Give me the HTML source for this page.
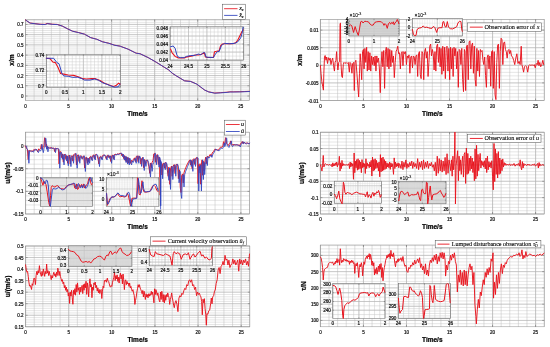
<!DOCTYPE html>
<html><head><meta charset="utf-8"><title>Observation results</title>
<style>html,body{margin:0;padding:0;background:#fff}svg{display:block;filter:blur(0.35px)}</style></head>
<body><svg width="550" height="347" viewBox="0 0 550 347">
<rect width="550" height="347" fill="#fff"/>
<rect x="25.50" y="19.60" width="223.90" height="80.80" fill="#fff"/>
<path d="M25.50 100.09H249.40M25.50 98.05H249.40M25.50 96.00H249.40M25.50 93.96H249.40M25.50 91.91H249.40M25.50 89.87H249.40M25.50 87.82H249.40M25.50 85.77H249.40M25.50 83.73H249.40M25.50 81.68H249.40M25.50 79.64H249.40M25.50 77.59H249.40M25.50 75.55H249.40M25.50 73.50H249.40M25.50 71.46H249.40M25.50 69.41H249.40M25.50 67.36H249.40M25.50 65.32H249.40M25.50 63.27H249.40M25.50 61.23H249.40M25.50 59.18H249.40M25.50 57.14H249.40M25.50 55.09H249.40M25.50 53.05H249.40M25.50 51.00H249.40M25.50 48.95H249.40M25.50 46.91H249.40M25.50 44.86H249.40M25.50 42.82H249.40M25.50 40.77H249.40M25.50 38.73H249.40M25.50 36.68H249.40M25.50 34.63H249.40M25.50 32.59H249.40M25.50 30.54H249.40M25.50 28.50H249.40M25.50 26.45H249.40M25.50 24.41H249.40M25.50 22.36H249.40M25.50 20.32H249.40" stroke="#cdcdcd" stroke-width="0.5" fill="none"/>
<path d="M25.50 19.60V100.40M34.11 19.60V100.40M42.72 19.60V100.40M51.33 19.60V100.40M59.95 19.60V100.40M68.56 19.60V100.40M77.17 19.60V100.40M85.78 19.60V100.40M94.39 19.60V100.40M103.00 19.60V100.40M111.62 19.60V100.40M120.23 19.60V100.40M128.84 19.60V100.40M137.45 19.60V100.40M146.06 19.60V100.40M154.67 19.60V100.40M163.28 19.60V100.40M171.90 19.60V100.40M180.51 19.60V100.40M189.12 19.60V100.40M197.73 19.60V100.40M206.34 19.60V100.40M214.95 19.60V100.40M223.57 19.60V100.40M232.18 19.60V100.40M240.79 19.60V100.40M249.40 19.60V100.40" stroke="#bcbcbc" stroke-width="0.5" fill="none"/>
<path d="M25.50 19.60V100.40M68.56 19.60V100.40M111.62 19.60V100.40M154.67 19.60V100.40M197.73 19.60V100.40M240.79 19.60V100.40M25.50 96.00H249.40M25.50 85.77H249.40M25.50 75.55H249.40M25.50 65.32H249.40M25.50 55.09H249.40M25.50 44.86H249.40M25.50 34.63H249.40M25.50 24.41H249.40" stroke="#b0b0b0" stroke-width="0.55" fill="none"/>
<rect x="25.50" y="19.60" width="223.90" height="80.80" fill="none" stroke="#8a8a8a" stroke-width="0.5"/>
<path d="M68.56 100.40v-2.0M68.56 19.60v2.0M111.62 100.40v-2.0M111.62 19.60v2.0M154.67 100.40v-2.0M154.67 19.60v2.0M197.73 100.40v-2.0M197.73 19.60v2.0M240.79 100.40v-2.0M240.79 19.60v2.0M25.50 96.00h2.0M249.40 96.00h-2.0M25.50 85.77h2.0M249.40 85.77h-2.0M25.50 75.55h2.0M249.40 75.55h-2.0M25.50 65.32h2.0M249.40 65.32h-2.0M25.50 55.09h2.0M249.40 55.09h-2.0M25.50 44.86h2.0M249.40 44.86h-2.0M25.50 34.63h2.0M249.40 34.63h-2.0M25.50 24.41h2.0M249.40 24.41h-2.0" stroke="#555" stroke-width="0.45" fill="none"/>
<text x="25.50" y="107.50" font-size="4.5" text-anchor="middle" font-family="Liberation Sans, sans-serif" fill="#111" stroke="#111" stroke-width="0.2">0</text>
<text x="68.56" y="107.50" font-size="4.5" text-anchor="middle" font-family="Liberation Sans, sans-serif" fill="#111" stroke="#111" stroke-width="0.2">5</text>
<text x="111.62" y="107.50" font-size="4.5" text-anchor="middle" font-family="Liberation Sans, sans-serif" fill="#111" stroke="#111" stroke-width="0.2">10</text>
<text x="154.67" y="107.50" font-size="4.5" text-anchor="middle" font-family="Liberation Sans, sans-serif" fill="#111" stroke="#111" stroke-width="0.2">15</text>
<text x="197.73" y="107.50" font-size="4.5" text-anchor="middle" font-family="Liberation Sans, sans-serif" fill="#111" stroke="#111" stroke-width="0.2">20</text>
<text x="240.79" y="107.50" font-size="4.5" text-anchor="middle" font-family="Liberation Sans, sans-serif" fill="#111" stroke="#111" stroke-width="0.2">25</text>
<text x="23.50" y="98.02" font-size="4.5" text-anchor="end" font-family="Liberation Sans, sans-serif" fill="#111" stroke="#111" stroke-width="0.2">0</text>
<text x="23.50" y="87.79" font-size="4.5" text-anchor="end" font-family="Liberation Sans, sans-serif" fill="#111" stroke="#111" stroke-width="0.2">0.1</text>
<text x="23.50" y="77.57" font-size="4.5" text-anchor="end" font-family="Liberation Sans, sans-serif" fill="#111" stroke="#111" stroke-width="0.2">0.2</text>
<text x="23.50" y="67.34" font-size="4.5" text-anchor="end" font-family="Liberation Sans, sans-serif" fill="#111" stroke="#111" stroke-width="0.2">0.3</text>
<text x="23.50" y="57.11" font-size="4.5" text-anchor="end" font-family="Liberation Sans, sans-serif" fill="#111" stroke="#111" stroke-width="0.2">0.4</text>
<text x="23.50" y="46.88" font-size="4.5" text-anchor="end" font-family="Liberation Sans, sans-serif" fill="#111" stroke="#111" stroke-width="0.2">0.5</text>
<text x="23.50" y="36.65" font-size="4.5" text-anchor="end" font-family="Liberation Sans, sans-serif" fill="#111" stroke="#111" stroke-width="0.2">0.6</text>
<text x="23.50" y="26.43" font-size="4.5" text-anchor="end" font-family="Liberation Sans, sans-serif" fill="#111" stroke="#111" stroke-width="0.2">0.7</text>
<polyline points="25.40,19.95 29.84,22.97 34.89,23.58 39.93,24.18 44.98,24.39 47.00,23.38 52.04,24.18 57.09,24.39 62.13,26.00 67.18,28.62 72.22,31.05 78.28,32.46 84.33,34.07 90.39,37.50 96.44,39.12 102.49,41.74 108.55,43.15 114.60,45.17 119.75,46.00 120.66,46.38 127.82,49.03 135.90,53.06 139.93,53.67 148.00,57.50 156.08,62.15 164.15,67.19 168.19,69.61 172.22,73.25 176.26,75.87 180.29,78.29 184.33,80.71 190.39,81.32 196.44,83.94 200.48,86.97 204.51,90.00 208.55,91.81 214.60,93.02 220.66,92.62 226.71,92.22 229.74,91.81 233.75,91.80 239.75,91.70 244.75,91.50 249.15,91.30" fill="none" stroke="#e8141e" stroke-width="0.9" stroke-linejoin="round" stroke-linecap="round"/>
<polyline points="25.80,20.15 30.24,23.17 35.29,23.78 40.33,24.38 45.38,24.59 47.40,23.58 52.44,24.38 57.49,24.59 62.53,26.20 67.58,28.82 72.62,31.25 78.68,32.66 84.73,34.27 90.79,37.70 96.84,39.32 102.89,41.94 108.95,43.35 115.00,45.37 120.15,46.20 121.06,46.58 128.22,49.23 136.30,53.26 140.33,53.87 148.40,57.70 156.48,62.35 164.55,67.39 168.59,69.81 172.62,73.45 176.66,76.07 180.69,78.49 184.73,80.91 190.79,81.52 196.84,84.14 200.88,87.17 204.91,90.20 208.95,92.01 215.00,93.22 221.06,92.82 227.11,92.42 230.14,92.01 234.15,92.00 240.15,91.90 245.15,91.70 249.55,91.50" fill="none" stroke="#2f43c0" stroke-width="0.9" stroke-linejoin="round" stroke-linecap="round"/>
<text x="137.45" y="115.60" font-size="6.5" font-weight="bold" text-anchor="middle" font-family="Liberation Sans, sans-serif" fill="#000" stroke="#000" stroke-width="0.2">Time/s</text>
<text transform="translate(14.20,60.00) rotate(-90)" font-size="6.6" font-weight="bold" text-anchor="middle" font-family="Liberation Sans, sans-serif" fill="#000" stroke="#000" stroke-width="0.2">x/m</text>
<rect x="222.30" y="4.20" width="23.20" height="15.10" fill="#fff" stroke="#4a4a4a" stroke-width="0.5"/>
<line x1="224.10" y1="8.70" x2="237.50" y2="8.70" stroke="#e8141e" stroke-width="1.0" stroke-opacity="0.85"/>
<text x="239.20" y="10.02" font-size="6.0" font-family="Liberation Serif, serif" fill="#000" stroke="#000" stroke-width="0.15"><tspan font-style="italic">x</tspan><tspan font-size="3.8" dy="1.0" font-style="italic">e</tspan></text>
<line x1="224.10" y1="15.40" x2="237.50" y2="15.40" stroke="#2f43c0" stroke-width="1.0" stroke-opacity="0.85"/>
<text x="239.20" y="16.72" font-size="6.0" font-family="Liberation Serif, serif" fill="#000" stroke="#000" stroke-width="0.15"><tspan font-style="italic">x̂</tspan><tspan font-size="3.8" dy="1.0" font-style="italic">e</tspan></text>
<rect x="46.40" y="54.60" width="74.00" height="33.10" fill="#fff"/>
<path d="M46.40 86.76H120.40M46.40 83.64H120.40M46.40 80.52H120.40M46.40 77.40H120.40M46.40 74.27H120.40M46.40 71.15H120.40M46.40 68.03H120.40M46.40 64.90H120.40M46.40 61.78H120.40M46.40 58.66H120.40M46.40 55.54H120.40" stroke="#cfcfcf" stroke-width="0.5" fill="none"/>
<path d="M46.40 54.60V87.70M50.10 54.60V87.70M53.80 54.60V87.70M57.50 54.60V87.70M61.20 54.60V87.70M64.90 54.60V87.70M68.60 54.60V87.70M72.30 54.60V87.70M76.00 54.60V87.70M79.70 54.60V87.70M83.40 54.60V87.70M87.10 54.60V87.70M90.80 54.60V87.70M94.50 54.60V87.70M98.20 54.60V87.70M101.90 54.60V87.70M105.60 54.60V87.70M109.30 54.60V87.70M113.00 54.60V87.70M116.70 54.60V87.70M120.40 54.60V87.70" stroke="#cfcfcf" stroke-width="0.5" fill="none"/>
<path d="M46.40 54.60V87.70M64.90 54.60V87.70M83.40 54.60V87.70M101.90 54.60V87.70M120.40 54.60V87.70M46.40 86.76H120.40M46.40 71.15H120.40M46.40 55.54H120.40" stroke="#b4b4b4" stroke-width="0.55" fill="none"/>
<rect x="46.40" y="54.60" width="74.00" height="33.10" fill="none" stroke="#666" stroke-width="0.5"/>
<path d="M64.90 87.70v-1.2M64.90 54.60v1.2M83.40 87.70v-1.2M83.40 54.60v1.2M101.90 87.70v-1.2M101.90 54.60v1.2M46.40 86.76h1.2M120.40 86.76h-1.2M46.40 71.15h1.2M120.40 71.15h-1.2M46.40 55.54h1.2M120.40 55.54h-1.2" stroke="#555" stroke-width="0.45" fill="none"/>
<text x="46.40" y="93.66" font-size="4.6" text-anchor="middle" font-family="Liberation Sans, sans-serif" fill="#111" stroke="#111" stroke-width="0.2">0</text>
<text x="64.90" y="93.66" font-size="4.6" text-anchor="middle" font-family="Liberation Sans, sans-serif" fill="#111" stroke="#111" stroke-width="0.2">0.5</text>
<text x="83.40" y="93.66" font-size="4.6" text-anchor="middle" font-family="Liberation Sans, sans-serif" fill="#111" stroke="#111" stroke-width="0.2">1</text>
<text x="101.90" y="93.66" font-size="4.6" text-anchor="middle" font-family="Liberation Sans, sans-serif" fill="#111" stroke="#111" stroke-width="0.2">1.5</text>
<text x="120.40" y="93.66" font-size="4.6" text-anchor="middle" font-family="Liberation Sans, sans-serif" fill="#111" stroke="#111" stroke-width="0.2">2</text>
<text x="44.40" y="88.02" font-size="4.6" text-anchor="end" font-family="Liberation Sans, sans-serif" fill="#111" stroke="#111" stroke-width="0.2">0.7</text>
<text x="44.40" y="72.41" font-size="4.6" text-anchor="end" font-family="Liberation Sans, sans-serif" fill="#111" stroke="#111" stroke-width="0.2">0.72</text>
<text x="44.40" y="56.79" font-size="4.6" text-anchor="end" font-family="Liberation Sans, sans-serif" fill="#111" stroke="#111" stroke-width="0.2">0.74</text>
<polyline points="46.36,58.27 50.00,58.64 52.73,61.91 55.45,62.64 58.18,67.73 60.55,73.55 63.64,74.09 68.18,75.00 73.64,75.36 78.18,76.82 82.73,78.64 86.36,79.00 91.82,78.64 95.45,78.64 100.00,80.45 104.55,83.18 109.09,85.00 113.64,86.45 116.36,85.36 118.55,83.18 120.00,84.09" fill="none" stroke="#e8141e" stroke-width="1.1" stroke-linejoin="round" stroke-linecap="round"/>
<polyline points="46.36,58.27 53.64,58.27 56.91,62.64 59.09,63.73 61.82,73.18 63.64,75.91 68.18,76.27 72.73,77.36 77.27,77.18 81.82,78.64 84.55,80.09 90.00,80.09 94.55,79.00 98.18,80.09 102.73,82.82 106.36,84.09 110.91,85.91 114.55,87.18 118.18,86.82 120.00,84.09" fill="none" stroke="#2f43c0" stroke-width="1.0" stroke-linejoin="round" stroke-linecap="round"/>
<rect x="170.10" y="26.80" width="73.60" height="33.30" fill="#fff"/>
<path d="M170.10 60.10H243.70M170.10 56.09H243.70M170.10 52.08H243.70M170.10 48.06H243.70M170.10 44.05H243.70M170.10 40.04H243.70M170.10 36.03H243.70M170.10 32.02H243.70M170.10 28.00H243.70" stroke="#cfcfcf" stroke-width="0.5" fill="none"/>
<path d="M170.10 26.80V60.10M173.78 26.80V60.10M177.46 26.80V60.10M181.14 26.80V60.10M184.82 26.80V60.10M188.50 26.80V60.10M192.18 26.80V60.10M195.86 26.80V60.10M199.54 26.80V60.10M203.22 26.80V60.10M206.90 26.80V60.10M210.58 26.80V60.10M214.26 26.80V60.10M217.94 26.80V60.10M221.62 26.80V60.10M225.30 26.80V60.10M228.98 26.80V60.10M232.66 26.80V60.10M236.34 26.80V60.10M240.02 26.80V60.10M243.70 26.80V60.10" stroke="#cfcfcf" stroke-width="0.5" fill="none"/>
<path d="M170.10 26.80V60.10M188.50 26.80V60.10M206.90 26.80V60.10M225.30 26.80V60.10M243.70 26.80V60.10M170.10 60.10H243.70M170.10 52.08H243.70M170.10 44.05H243.70M170.10 36.03H243.70M170.10 28.00H243.70" stroke="#b4b4b4" stroke-width="0.55" fill="none"/>
<rect x="170.10" y="26.80" width="73.60" height="33.30" fill="none" stroke="#666" stroke-width="0.5"/>
<path d="M188.50 60.10v-1.2M188.50 26.80v1.2M206.90 60.10v-1.2M206.90 26.80v1.2M225.30 60.10v-1.2M225.30 26.80v1.2M170.10 52.08h1.2M243.70 52.08h-1.2M170.10 44.05h1.2M243.70 44.05h-1.2M170.10 36.03h1.2M243.70 36.03h-1.2M170.10 28.00h1.2M243.70 28.00h-1.2" stroke="#555" stroke-width="0.45" fill="none"/>
<text x="170.10" y="67.56" font-size="4.6" text-anchor="middle" font-family="Liberation Sans, sans-serif" fill="#111" stroke="#111" stroke-width="0.2">24</text>
<text x="188.50" y="67.56" font-size="4.6" text-anchor="middle" font-family="Liberation Sans, sans-serif" fill="#111" stroke="#111" stroke-width="0.2">24.5</text>
<text x="206.90" y="67.56" font-size="4.6" text-anchor="middle" font-family="Liberation Sans, sans-serif" fill="#111" stroke="#111" stroke-width="0.2">25</text>
<text x="225.30" y="67.56" font-size="4.6" text-anchor="middle" font-family="Liberation Sans, sans-serif" fill="#111" stroke="#111" stroke-width="0.2">25.5</text>
<text x="243.70" y="67.56" font-size="4.6" text-anchor="middle" font-family="Liberation Sans, sans-serif" fill="#111" stroke="#111" stroke-width="0.2">26</text>
<text x="168.10" y="62.46" font-size="4.6" text-anchor="end" font-family="Liberation Sans, sans-serif" fill="#111" stroke="#111" stroke-width="0.2">0.04</text>
<text x="168.10" y="54.43" font-size="4.6" text-anchor="end" font-family="Liberation Sans, sans-serif" fill="#111" stroke="#111" stroke-width="0.2">0.042</text>
<text x="168.10" y="46.41" font-size="4.6" text-anchor="end" font-family="Liberation Sans, sans-serif" fill="#111" stroke="#111" stroke-width="0.2">0.044</text>
<text x="168.10" y="38.38" font-size="4.6" text-anchor="end" font-family="Liberation Sans, sans-serif" fill="#111" stroke="#111" stroke-width="0.2">0.046</text>
<text x="168.10" y="30.36" font-size="4.6" text-anchor="end" font-family="Liberation Sans, sans-serif" fill="#111" stroke="#111" stroke-width="0.2">0.048</text>
<polyline points="170.52,48.99 172.14,52.82 175.16,56.45 178.19,57.86 184.23,58.06 187.26,56.85 192.30,55.85 195.32,55.04 198.35,54.84 200.97,54.44 204.40,52.82 205.40,57.06 207.82,57.46 213.47,57.46 214.48,51.81 219.11,50.81 220.52,45.97 222.54,43.95 226.57,43.55 232.62,43.75 235.65,42.74 237.66,40.32 239.68,36.29 242.10,31.25 243.31,29.84" fill="none" stroke="#e8141e" stroke-width="1.1" stroke-linejoin="round" stroke-linecap="round"/>
<polyline points="170.52,46.77 173.15,45.97 175.16,48.39 176.77,54.84 178.19,57.06 180.20,57.66 184.23,57.66 186.25,56.45 190.28,55.65 195.32,55.24 198.35,54.03 200.97,54.84 203.39,52.42 204.80,52.82 206.01,57.06 207.82,57.26 213.47,57.46 215.48,54.03 217.50,51.41 219.11,51.61 221.53,45.36 224.56,43.35 229.60,43.75 234.64,43.35 237.66,41.94 240.69,37.90 242.10,33.27 243.10,27.22" fill="none" stroke="#2f43c0" stroke-width="1.0" stroke-linejoin="round" stroke-linecap="round"/>
<rect x="320.40" y="19.40" width="223.80" height="81.10" fill="#fff"/>
<path d="M320.40 100.50H544.20M320.40 96.98H544.20M320.40 93.46H544.20M320.40 89.94H544.20M320.40 86.42H544.20M320.40 82.90H544.20M320.40 79.38H544.20M320.40 75.86H544.20M320.40 72.34H544.20M320.40 68.82H544.20M320.40 65.30H544.20M320.40 61.78H544.20M320.40 58.26H544.20M320.40 54.74H544.20M320.40 51.22H544.20M320.40 47.70H544.20M320.40 44.18H544.20M320.40 40.66H544.20M320.40 37.14H544.20M320.40 33.62H544.20M320.40 30.10H544.20M320.40 26.58H544.20M320.40 23.06H544.20M320.40 19.54H544.20" stroke="#cdcdcd" stroke-width="0.5" fill="none"/>
<path d="M320.40 19.40V100.50M329.01 19.40V100.50M337.62 19.40V100.50M346.22 19.40V100.50M354.83 19.40V100.50M363.44 19.40V100.50M372.05 19.40V100.50M380.65 19.40V100.50M389.26 19.40V100.50M397.87 19.40V100.50M406.48 19.40V100.50M415.08 19.40V100.50M423.69 19.40V100.50M432.30 19.40V100.50M440.91 19.40V100.50M449.52 19.40V100.50M458.12 19.40V100.50M466.73 19.40V100.50M475.34 19.40V100.50M483.95 19.40V100.50M492.55 19.40V100.50M501.16 19.40V100.50M509.77 19.40V100.50M518.38 19.40V100.50M526.98 19.40V100.50M535.59 19.40V100.50M544.20 19.40V100.50" stroke="#bcbcbc" stroke-width="0.5" fill="none"/>
<path d="M320.40 19.40V100.50M363.44 19.40V100.50M406.48 19.40V100.50M449.52 19.40V100.50M492.55 19.40V100.50M535.59 19.40V100.50M320.40 100.50H544.20M320.40 82.90H544.20M320.40 65.30H544.20M320.40 47.70H544.20M320.40 30.10H544.20" stroke="#b0b0b0" stroke-width="0.55" fill="none"/>
<rect x="320.40" y="19.40" width="223.80" height="81.10" fill="none" stroke="#8a8a8a" stroke-width="0.5"/>
<path d="M363.44 100.50v-2.0M363.44 19.40v2.0M406.48 100.50v-2.0M406.48 19.40v2.0M449.52 100.50v-2.0M449.52 19.40v2.0M492.55 100.50v-2.0M492.55 19.40v2.0M535.59 100.50v-2.0M535.59 19.40v2.0M320.40 82.90h2.0M544.20 82.90h-2.0M320.40 65.30h2.0M544.20 65.30h-2.0M320.40 47.70h2.0M544.20 47.70h-2.0M320.40 30.10h2.0M544.20 30.10h-2.0" stroke="#555" stroke-width="0.45" fill="none"/>
<text x="320.40" y="107.60" font-size="4.5" text-anchor="middle" font-family="Liberation Sans, sans-serif" fill="#111" stroke="#111" stroke-width="0.2">0</text>
<text x="363.44" y="107.60" font-size="4.5" text-anchor="middle" font-family="Liberation Sans, sans-serif" fill="#111" stroke="#111" stroke-width="0.2">5</text>
<text x="406.48" y="107.60" font-size="4.5" text-anchor="middle" font-family="Liberation Sans, sans-serif" fill="#111" stroke="#111" stroke-width="0.2">10</text>
<text x="449.52" y="107.60" font-size="4.5" text-anchor="middle" font-family="Liberation Sans, sans-serif" fill="#111" stroke="#111" stroke-width="0.2">15</text>
<text x="492.55" y="107.60" font-size="4.5" text-anchor="middle" font-family="Liberation Sans, sans-serif" fill="#111" stroke="#111" stroke-width="0.2">20</text>
<text x="535.59" y="107.60" font-size="4.5" text-anchor="middle" font-family="Liberation Sans, sans-serif" fill="#111" stroke="#111" stroke-width="0.2">25</text>
<text x="318.40" y="102.52" font-size="4.5" text-anchor="end" font-family="Liberation Sans, sans-serif" fill="#111" stroke="#111" stroke-width="0.2">-0.01</text>
<text x="318.40" y="84.92" font-size="4.5" text-anchor="end" font-family="Liberation Sans, sans-serif" fill="#111" stroke="#111" stroke-width="0.2">-0.005</text>
<text x="318.40" y="67.32" font-size="4.5" text-anchor="end" font-family="Liberation Sans, sans-serif" fill="#111" stroke="#111" stroke-width="0.2">0</text>
<text x="318.40" y="49.72" font-size="4.5" text-anchor="end" font-family="Liberation Sans, sans-serif" fill="#111" stroke="#111" stroke-width="0.2">0.005</text>
<text x="318.40" y="32.12" font-size="4.5" text-anchor="end" font-family="Liberation Sans, sans-serif" fill="#111" stroke="#111" stroke-width="0.2">0.01</text>
<polyline points="320.38,65.46 321.03,73.24 321.89,81.89 322.76,86.65 323.41,90.11 323.84,73.24 324.49,57.03 325.14,55.51 326.00,60.27 326.65,57.03 327.51,63.51 328.38,57.68 329.24,60.27 330.11,58.11 330.97,64.59 331.84,60.27 332.70,58.11 333.57,65.68 334.43,71.08 335.08,62.43 335.95,60.27 336.59,51.62 337.24,62.43 337.89,70.00 338.76,62.43 339.62,61.35 340.05,23.51 340.49,23.08 340.92,62.43 341.78,76.49 342.43,77.57 343.30,64.59 343.95,62.43 345.03,63.51 346.11,62.43 347.19,63.51 348.27,62.43 349.35,72.16 350.00,62.43 350.86,63.51 351.95,73.24 352.59,63.51 353.68,62.43 354.32,90.54 354.97,62.43 355.84,60.27 356.92,73.24 357.78,85.14 358.65,97.03 359.51,73.24 360.16,53.78 360.81,62.43 361.68,79.73 362.54,51.62 363.41,49.46 364.05,68.92 364.92,48.38 365.78,62.43 366.65,47.30 367.30,71.08 368.16,51.62 369.03,70.00 369.89,52.70 370.76,71.08 371.62,55.95 372.49,64.59 373.35,57.03 374.22,65.68 375.08,55.95 375.95,71.08 376.81,55.95 377.68,62.43 378.54,58.11 379.41,68.92 380.27,92.70 381.14,64.59 382.00,51.62 382.86,66.76 383.73,50.54 384.59,88.38 385.46,51.62 386.32,47.30 387.19,66.76 388.05,48.38 388.92,68.92 389.78,49.46 390.00,51.62 390.86,66.76 391.73,50.54 392.59,62.43 393.46,55.95 394.32,77.57 395.19,62.43 396.05,51.62 396.92,49.46 397.78,46.22 398.65,53.78 399.51,52.70 400.38,68.92 401.24,53.78 402.11,51.62 402.97,65.68 403.84,51.62 404.70,53.78 405.57,51.62 406.43,64.59 407.30,55.95 408.16,58.11 409.03,54.86 409.89,73.24 410.76,57.03 411.62,55.95 412.49,67.84 413.35,55.95 414.22,57.03 415.08,64.59 415.95,55.95 416.81,54.86 417.68,76.49 418.54,53.78 419.41,51.62 420.27,74.32 421.14,78.65 422.00,51.62 422.86,53.78 423.73,79.73 424.59,51.62 425.46,48.38 426.32,58.11 427.19,51.62 428.05,76.49 428.92,62.43 429.78,46.22 430.65,44.05 431.51,55.95 432.38,49.46 433.24,53.78 434.11,70.00 434.97,51.62 435.84,71.08 436.70,46.22 437.57,44.05 438.43,62.43 439.30,47.30 440.16,66.76 441.03,48.38 441.89,74.32 442.76,46.22 443.62,71.08 444.49,47.30 445.35,78.65 446.22,47.30 447.08,46.22 447.95,71.08 448.81,48.38 449.68,79.73 450.54,47.30 451.41,68.92 452.27,48.38 453.14,76.49 454.00,47.30 454.86,55.95 455.73,48.38 456.59,68.92 457.46,51.62 458.32,87.30 459.19,49.46 460.05,50.54 460.92,64.59 461.78,48.38 462.65,79.73 463.51,91.62 464.38,49.46 465.00,51.62 465.65,90.54 466.51,46.22 467.38,45.14 468.24,79.73 469.11,41.89 469.97,40.81 470.84,68.92 471.70,45.14 472.57,42.97 473.43,73.24 474.30,46.22 475.16,79.73 476.03,86.22 476.89,48.38 477.76,71.08 478.62,50.54 479.49,76.49 480.35,49.46 481.22,51.62 482.08,50.54 482.95,60.27 483.81,64.59 484.68,57.03 485.54,75.41 486.41,87.30 487.27,57.03 488.14,54.86 489.00,68.92 489.86,55.95 490.73,86.22 491.59,51.62 492.46,50.54 493.32,88.38 494.19,51.62 495.05,94.86 495.92,99.62 496.78,62.43 497.65,45.14 498.51,44.05 499.38,88.38 500.24,51.62 501.11,38.22 501.97,39.73 502.84,64.59 503.70,42.97 504.57,41.89 505.43,49.46 506.30,51.62 507.16,58.11 508.03,50.54 508.89,49.46 509.76,53.78 510.62,50.54 511.49,55.95 512.57,57.03 513.65,60.27 514.73,64.59 515.81,58.11 516.89,53.78 517.97,63.51 519.05,61.35 520.14,64.59 521.22,46.22 521.86,64.59 522.73,67.84 523.59,72.16 524.46,66.76 525.54,65.68 526.62,66.76 527.70,72.16 528.78,65.68 529.86,64.59 530.95,65.68 532.03,64.59 533.11,65.68 534.19,64.59 535.27,67.84 536.35,63.51 537.43,64.59 538.08,60.27 538.95,65.68 539.81,62.43 540.68,66.76 541.76,64.59 542.84,60.27 543.70,64.59" fill="none" stroke="#e8141e" stroke-width="0.95" stroke-linejoin="round" stroke-linecap="round"/>
<text x="432.30" y="115.70" font-size="6.5" font-weight="bold" text-anchor="middle" font-family="Liberation Sans, sans-serif" fill="#000" stroke="#000" stroke-width="0.2">Time/s</text>
<text transform="translate(302.30,59.95) rotate(-90)" font-size="6.6" font-weight="bold" text-anchor="middle" font-family="Liberation Sans, sans-serif" fill="#000" stroke="#000" stroke-width="0.2">x/m</text>
<rect x="348.90" y="18.90" width="50.20" height="17.10" fill="#dcdcdc"/>
<path d="M348.90 36.00H399.10M348.90 34.78H399.10M348.90 33.56H399.10M348.90 32.34H399.10M348.90 31.11H399.10M348.90 29.89H399.10M348.90 28.67H399.10M348.90 27.45H399.10M348.90 26.23H399.10M348.90 25.01H399.10M348.90 23.79H399.10M348.90 22.56H399.10M348.90 21.34H399.10M348.90 20.12H399.10M348.90 18.90H399.10" stroke="#cacaca" stroke-width="0.35" fill="none"/>
<path d="M348.90 18.90V36.00M349.90 18.90V36.00M350.91 18.90V36.00M351.91 18.90V36.00M352.92 18.90V36.00M353.92 18.90V36.00M354.92 18.90V36.00M355.93 18.90V36.00M356.93 18.90V36.00M357.94 18.90V36.00M358.94 18.90V36.00M359.94 18.90V36.00M360.95 18.90V36.00M361.95 18.90V36.00M362.96 18.90V36.00M363.96 18.90V36.00M364.96 18.90V36.00M365.97 18.90V36.00M366.97 18.90V36.00M367.98 18.90V36.00M368.98 18.90V36.00M369.98 18.90V36.00M370.99 18.90V36.00M371.99 18.90V36.00M373.00 18.90V36.00M374.00 18.90V36.00M375.00 18.90V36.00M376.01 18.90V36.00M377.01 18.90V36.00M378.02 18.90V36.00M379.02 18.90V36.00M380.02 18.90V36.00M381.03 18.90V36.00M382.03 18.90V36.00M383.04 18.90V36.00M384.04 18.90V36.00M385.04 18.90V36.00M386.05 18.90V36.00M387.05 18.90V36.00M388.06 18.90V36.00M389.06 18.90V36.00M390.06 18.90V36.00M391.07 18.90V36.00M392.07 18.90V36.00M393.08 18.90V36.00M394.08 18.90V36.00M395.08 18.90V36.00M396.09 18.90V36.00M397.09 18.90V36.00M398.10 18.90V36.00M399.10 18.90V36.00" stroke="#cacaca" stroke-width="0.35" fill="none"/>
<path d="M348.90 18.90V36.00M374.00 18.90V36.00M399.10 18.90V36.00M348.90 18.90H399.10M348.90 21.34H399.10M348.90 23.79H399.10M348.90 26.23H399.10M348.90 28.67H399.10M348.90 31.11H399.10M348.90 33.56H399.10" stroke="#c8c8c8" stroke-width="0.55" fill="none"/>
<rect x="348.90" y="18.90" width="50.20" height="17.10" fill="none" stroke="#666" stroke-width="0.5"/>
<path d="M374.00 36.00v-1.2M374.00 18.90v1.2M348.90 21.34h1.2M399.10 21.34h-1.2M348.90 23.79h1.2M399.10 23.79h-1.2M348.90 26.23h1.2M399.10 26.23h-1.2M348.90 28.67h1.2M399.10 28.67h-1.2M348.90 31.11h1.2M399.10 31.11h-1.2M348.90 33.56h1.2M399.10 33.56h-1.2" stroke="#555" stroke-width="0.45" fill="none"/>
<text x="348.90" y="42.66" font-size="4.6" text-anchor="middle" font-family="Liberation Sans, sans-serif" fill="#111" stroke="#111" stroke-width="0.2">0</text>
<text x="374.00" y="42.66" font-size="4.6" text-anchor="middle" font-family="Liberation Sans, sans-serif" fill="#111" stroke="#111" stroke-width="0.2">1</text>
<text x="399.10" y="42.66" font-size="4.6" text-anchor="middle" font-family="Liberation Sans, sans-serif" fill="#111" stroke="#111" stroke-width="0.2">2</text>
<text x="348.30" y="20.56" font-size="4.6" text-anchor="end" font-family="Liberation Sans, sans-serif" fill="#111" stroke="#111" stroke-width="0.2">4</text>
<text x="348.30" y="23.00" font-size="4.6" text-anchor="end" font-family="Liberation Sans, sans-serif" fill="#111" stroke="#111" stroke-width="0.2">2</text>
<text x="348.30" y="25.44" font-size="4.6" text-anchor="end" font-family="Liberation Sans, sans-serif" fill="#111" stroke="#111" stroke-width="0.2">0</text>
<text x="348.30" y="27.88" font-size="4.6" text-anchor="end" font-family="Liberation Sans, sans-serif" fill="#111" stroke="#111" stroke-width="0.2">-2</text>
<text x="348.30" y="30.33" font-size="4.6" text-anchor="end" font-family="Liberation Sans, sans-serif" fill="#111" stroke="#111" stroke-width="0.2">-4</text>
<text x="348.30" y="32.77" font-size="4.6" text-anchor="end" font-family="Liberation Sans, sans-serif" fill="#111" stroke="#111" stroke-width="0.2">-6</text>
<text x="348.30" y="35.21" font-size="4.6" text-anchor="end" font-family="Liberation Sans, sans-serif" fill="#111" stroke="#111" stroke-width="0.2">-8</text>
<text x="349.5" y="17.3" font-size="5.0" font-family="Liberation Sans, sans-serif" fill="#111" stroke="#111" stroke-width="0.1">×10<tspan font-size="3.6" dy="-1.8">-3</tspan></text>
<polyline points="349.22,25.96 350.64,24.78 351.82,25.96 353.59,32.46 355.13,26.55 356.55,31.28 358.32,35.41 359.50,28.91 360.69,21.82 361.87,21.23 363.05,23.00 364.82,21.23 366.60,21.58 368.37,21.82 370.14,24.18 371.32,25.13 373.10,25.13 374.87,22.41 376.64,21.82 379.01,21.58 381.37,21.82 383.14,23.59 383.97,25.37 384.92,23.59 386.10,24.78 387.28,28.32 388.46,23.59 389.65,22.41 390.59,24.18 391.77,22.41 392.60,23.59 393.43,21.82 394.14,24.78 394.96,23.00 396.15,21.82 397.33,19.46 398.16,21.82 398.87,23.59" fill="none" stroke="#e8141e" stroke-width="1.0" stroke-linejoin="round" stroke-linecap="round"/>
<rect x="412.30" y="18.70" width="50.00" height="17.30" fill="#fff"/>
<path d="M412.30 36.00H462.30M412.30 31.73H462.30M412.30 27.46H462.30M412.30 23.19H462.30M412.30 18.91H462.30" stroke="#dddddd" stroke-width="0.5" fill="none"/>
<path d="M412.30 18.70V36.00M414.80 18.70V36.00M417.30 18.70V36.00M419.80 18.70V36.00M422.30 18.70V36.00M424.80 18.70V36.00M427.30 18.70V36.00M429.80 18.70V36.00M432.30 18.70V36.00M434.80 18.70V36.00M437.30 18.70V36.00M439.80 18.70V36.00M442.30 18.70V36.00M444.80 18.70V36.00M447.30 18.70V36.00M449.80 18.70V36.00M452.30 18.70V36.00M454.80 18.70V36.00M457.30 18.70V36.00M459.80 18.70V36.00M462.30 18.70V36.00" stroke="#dddddd" stroke-width="0.5" fill="none"/>
<path d="M412.30 18.70V36.00M437.30 18.70V36.00M462.30 18.70V36.00M412.30 36.00H462.30M412.30 27.46H462.30M412.30 18.91H462.30" stroke="#b0b0b0" stroke-width="0.55" fill="none"/>
<rect x="412.30" y="18.70" width="50.00" height="17.30" fill="none" stroke="#666" stroke-width="0.5"/>
<path d="M437.30 36.00v-1.2M437.30 18.70v1.2M412.30 27.46h1.2M462.30 27.46h-1.2" stroke="#555" stroke-width="0.45" fill="none"/>
<text x="412.30" y="42.66" font-size="4.6" text-anchor="middle" font-family="Liberation Sans, sans-serif" fill="#111" stroke="#111" stroke-width="0.2">24</text>
<text x="437.30" y="42.66" font-size="4.6" text-anchor="middle" font-family="Liberation Sans, sans-serif" fill="#111" stroke="#111" stroke-width="0.2">25</text>
<text x="462.30" y="42.66" font-size="4.6" text-anchor="middle" font-family="Liberation Sans, sans-serif" fill="#111" stroke="#111" stroke-width="0.2">26</text>
<text x="410.30" y="37.66" font-size="4.6" text-anchor="end" font-family="Liberation Sans, sans-serif" fill="#111" stroke="#111" stroke-width="0.2">-2</text>
<text x="410.30" y="29.11" font-size="4.6" text-anchor="end" font-family="Liberation Sans, sans-serif" fill="#111" stroke="#111" stroke-width="0.2">0</text>
<text x="410.30" y="20.57" font-size="4.6" text-anchor="end" font-family="Liberation Sans, sans-serif" fill="#111" stroke="#111" stroke-width="0.2">2</text>
<text x="414.5" y="17.3" font-size="5.0" font-family="Liberation Sans, sans-serif" fill="#111" stroke="#111" stroke-width="0.1">×10<tspan font-size="3.6" dy="-1.8">-3</tspan></text>
<polyline points="412.46,29.50 413.40,34.23 414.23,35.41 416.00,35.41 416.95,30.09 417.78,28.68 419.55,27.97 421.32,27.73 423.09,25.96 424.87,27.49 426.64,27.14 428.41,27.73 430.19,28.32 431.96,28.32 433.50,26.31 434.91,27.73 436.69,32.46 437.87,28.32 439.64,27.73 442.01,27.73 442.95,21.82 443.78,21.58 444.96,26.55 446.14,27.14 447.33,21.58 448.51,27.14 450.28,28.68 452.65,28.91 455.01,27.73 456.78,26.55 457.96,23.00 459.50,21.23 460.92,21.58 461.87,30.09 462.34,31.28" fill="none" stroke="#e8141e" stroke-width="1.0" stroke-linejoin="round" stroke-linecap="round"/>
<rect x="467.40" y="22.90" width="73.90" height="8.50" fill="#fff" stroke="#4a4a4a" stroke-width="0.5"/>
<line x1="469.80" y1="27.15" x2="482.80" y2="27.15" stroke="#e8141e" stroke-width="0.9"/>
<text x="484.50" y="29.01" font-size="6.2" textLength="55" lengthAdjust="spacingAndGlyphs" font-family="Liberation Serif, serif" fill="#000" stroke="#000" stroke-width="0.1">Observation error of <tspan font-style="italic">x</tspan></text>
<rect x="25.60" y="132.10" width="223.90" height="81.90" fill="#fff"/>
<path d="M25.60 214.00H249.50M25.60 209.47H249.50M25.60 204.95H249.50M25.60 200.42H249.50M25.60 195.89H249.50M25.60 191.36H249.50M25.60 186.84H249.50M25.60 182.31H249.50M25.60 177.78H249.50M25.60 173.25H249.50M25.60 168.73H249.50M25.60 164.20H249.50M25.60 159.67H249.50M25.60 155.14H249.50M25.60 150.62H249.50M25.60 146.09H249.50M25.60 141.56H249.50M25.60 137.03H249.50M25.60 132.51H249.50" stroke="#cdcdcd" stroke-width="0.5" fill="none"/>
<path d="M25.60 132.10V214.00M34.21 132.10V214.00M42.82 132.10V214.00M51.43 132.10V214.00M60.05 132.10V214.00M68.66 132.10V214.00M77.27 132.10V214.00M85.88 132.10V214.00M94.49 132.10V214.00M103.10 132.10V214.00M111.72 132.10V214.00M120.33 132.10V214.00M128.94 132.10V214.00M137.55 132.10V214.00M146.16 132.10V214.00M154.77 132.10V214.00M163.38 132.10V214.00M172.00 132.10V214.00M180.61 132.10V214.00M189.22 132.10V214.00M197.83 132.10V214.00M206.44 132.10V214.00M215.05 132.10V214.00M223.67 132.10V214.00M232.28 132.10V214.00M240.89 132.10V214.00M249.50 132.10V214.00" stroke="#bcbcbc" stroke-width="0.5" fill="none"/>
<path d="M25.60 132.10V214.00M68.66 132.10V214.00M111.72 132.10V214.00M154.77 132.10V214.00M197.83 132.10V214.00M240.89 132.10V214.00M25.60 214.00H249.50M25.60 191.36H249.50M25.60 168.73H249.50M25.60 146.09H249.50" stroke="#b0b0b0" stroke-width="0.55" fill="none"/>
<rect x="25.60" y="132.10" width="223.90" height="81.90" fill="none" stroke="#8a8a8a" stroke-width="0.5"/>
<path d="M68.66 214.00v-2.0M68.66 132.10v2.0M111.72 214.00v-2.0M111.72 132.10v2.0M154.77 214.00v-2.0M154.77 132.10v2.0M197.83 214.00v-2.0M197.83 132.10v2.0M240.89 214.00v-2.0M240.89 132.10v2.0M25.60 191.36h2.0M249.50 191.36h-2.0M25.60 168.73h2.0M249.50 168.73h-2.0M25.60 146.09h2.0M249.50 146.09h-2.0" stroke="#555" stroke-width="0.45" fill="none"/>
<text x="25.60" y="221.10" font-size="4.5" text-anchor="middle" font-family="Liberation Sans, sans-serif" fill="#111" stroke="#111" stroke-width="0.2">0</text>
<text x="68.66" y="221.10" font-size="4.5" text-anchor="middle" font-family="Liberation Sans, sans-serif" fill="#111" stroke="#111" stroke-width="0.2">5</text>
<text x="111.72" y="221.10" font-size="4.5" text-anchor="middle" font-family="Liberation Sans, sans-serif" fill="#111" stroke="#111" stroke-width="0.2">10</text>
<text x="154.77" y="221.10" font-size="4.5" text-anchor="middle" font-family="Liberation Sans, sans-serif" fill="#111" stroke="#111" stroke-width="0.2">15</text>
<text x="197.83" y="221.10" font-size="4.5" text-anchor="middle" font-family="Liberation Sans, sans-serif" fill="#111" stroke="#111" stroke-width="0.2">20</text>
<text x="240.89" y="221.10" font-size="4.5" text-anchor="middle" font-family="Liberation Sans, sans-serif" fill="#111" stroke="#111" stroke-width="0.2">25</text>
<text x="23.60" y="216.02" font-size="4.5" text-anchor="end" font-family="Liberation Sans, sans-serif" fill="#111" stroke="#111" stroke-width="0.2">-0.15</text>
<text x="23.60" y="193.38" font-size="4.5" text-anchor="end" font-family="Liberation Sans, sans-serif" fill="#111" stroke="#111" stroke-width="0.2">-0.1</text>
<text x="23.60" y="170.75" font-size="4.5" text-anchor="end" font-family="Liberation Sans, sans-serif" fill="#111" stroke="#111" stroke-width="0.2">-0.05</text>
<text x="23.60" y="148.11" font-size="4.5" text-anchor="end" font-family="Liberation Sans, sans-serif" fill="#111" stroke="#111" stroke-width="0.2">0</text>
<polyline points="24.91,146.06 25.73,146.32 26.55,148.62 27.38,149.26 28.20,159.58 28.85,150.63 29.84,150.55 30.82,151.34 31.81,150.70 32.79,151.58 33.78,149.53 34.76,149.91 35.75,149.02 36.74,150.30 37.72,151.84 38.71,148.90 39.69,149.54 40.68,148.26 41.33,144.42 41.99,148.90 42.65,149.38 43.30,146.18 43.96,145.54 44.62,137.85 45.27,138.49 45.93,146.82 46.59,144.26 47.24,148.92 47.90,147.09 48.89,147.60 49.87,148.27 50.86,147.38 51.84,148.66 52.83,147.89 53.81,148.27 54.80,151.62 55.45,148.03 56.44,148.80 57.42,148.42 58.41,149.06 59.07,163.89 59.72,151.73 60.71,151.65 61.69,157.68 62.35,153.84 63.34,162.16 63.99,154.91 64.98,154.27 65.96,159.40 66.62,155.55 67.61,163.24 68.26,156.37 69.25,155.09 70.23,164.06 70.89,157.01 71.87,155.55 72.86,161.14 73.52,154.73 74.50,154.09 75.49,153.45 76.47,164.98 77.13,156.01 78.11,154.73 79.10,161.50 79.76,156.37 80.74,155.73 81.73,158.48 82.71,156.56 83.70,155.91 84.68,168.08 85.34,157.84 86.32,157.20 87.31,163.32 87.97,158.02 88.95,161.86 89.61,157.20 90.59,156.37 91.58,159.58 92.56,155.73 93.55,154.91 94.53,158.76 95.19,154.91 96.18,154.27 97.16,155.55 98.15,159.40 98.80,163.88 99.46,157.20 100.45,156.37 101.43,158.94 102.42,155.73 103.40,155.09 104.30,155.09 105.29,156.37 106.27,158.94 106.93,155.73 107.91,155.09 108.90,157.66 109.88,155.73 110.87,161.50 111.52,156.37 112.51,154.91 113.50,158.76 114.15,154.84 115.14,154.20 116.12,154.84 117.11,153.84 118.09,154.28 119.08,153.76 120.06,153.38 121.05,153.12 122.03,155.94 122.69,154.02 123.68,158.50 124.33,155.55 125.32,160.68 125.97,156.56 126.96,162.32 127.62,157.38 128.60,163.14 129.26,158.20 130.24,162.04 130.90,163.50 131.56,160.30 132.54,161.58 133.53,159.30 134.51,157.84 135.50,161.68 136.16,156.56 137.14,155.91 138.13,161.68 138.78,155.91 139.30,156.42 140.29,158.99 140.94,164.11 141.60,158.49 142.58,157.39 143.57,167.64 144.23,159.31 145.21,164.43 145.87,161.13 146.85,159.85 147.84,161.77 148.82,166.26 149.81,173.30 150.47,162.96 151.45,167.55 152.11,162.25 153.09,160.33 153.75,153.92 154.74,153.28 155.72,162.25 156.38,155.21 157.36,154.56 158.35,164.53 159.00,156.85 159.66,158.77 159.99,195.17 160.32,160.59 161.30,164.98 161.96,174.94 162.62,164.06 163.60,162.96 164.59,168.08 165.24,162.32 166.23,163.60 167.21,169.36 168.20,176.40 168.86,167.16 169.84,184.35 170.50,168.98 171.48,166.06 172.14,176.31 173.13,166.06 174.11,164.60 175.10,173.56 175.75,165.24 176.74,163.96 177.72,165.88 178.38,178.69 179.37,169.72 180.35,188.19 181.01,192.48 181.66,175.19 182.65,173.91 183.31,182.97 183.96,172.82 184.95,169.72 185.93,167.26 186.92,164.98 187.90,163.05 188.89,161.13 189.87,159.85 190.53,164.98 191.19,160.31 192.17,168.64 192.83,159.67 193.82,158.67 194.80,164.43 195.46,158.67 196.44,157.39 197.43,158.03 198.08,183.65 198.74,164.43 199.40,169.74 200.06,163.69 200.71,184.19 201.37,164.98 202.03,159.85 202.68,175.22 203.34,161.23 204.00,170.84 204.65,162.97 205.64,157.21 206.62,163.61 207.28,156.21 208.27,157.49 209.25,156.03 210.24,154.38 211.22,156.28 212.21,153.02 213.19,151.74 213.56,151.65 214.83,149.17 216.11,149.67 217.38,149.97 218.40,150.26 219.29,148.61 220.56,147.08 221.83,147.27 222.85,145.79 223.49,141.69 223.99,144.67 224.76,143.67 225.52,137.72 226.03,138.22 226.54,143.67 227.56,144.67 228.32,145.50 229.08,143.88 229.85,143.38 230.61,140.90 231.12,144.37 231.88,145.37 232.90,144.37 233.92,144.72 235.19,144.92 236.46,144.72 237.74,145.07 239.01,145.09 239.64,145.80 240.53,143.52 241.55,142.53 242.19,141.54 242.82,143.52 243.84,142.03 244.86,143.03 245.88,143.66 246.90,142.67 247.66,143.31 248.42,143.80 248.93,143.11" fill="none" stroke="#e8141e" stroke-width="0.95" stroke-linejoin="round" stroke-linecap="round"/>
<polyline points="25.61,146.06 26.43,146.39 27.25,149.35 28.08,150.17 28.90,163.30 29.55,150.99 30.54,150.66 31.52,151.81 32.51,150.99 33.49,152.30 34.48,149.67 35.46,150.17 36.45,149.02 37.44,150.66 38.42,152.63 39.41,150.17 40.39,150.99 41.38,149.35 42.03,144.42 42.69,150.17 43.35,152.63 44.00,148.53 44.66,147.70 45.32,137.85 45.97,138.67 46.63,149.35 47.29,146.06 47.94,151.81 48.60,147.38 49.59,148.03 50.57,148.53 51.56,147.38 52.54,149.02 53.53,148.03 54.51,148.53 55.50,152.63 56.15,148.03 57.14,149.02 58.12,148.53 59.11,149.35 59.77,168.23 60.42,152.63 61.41,152.30 62.39,159.20 63.05,154.27 64.04,164.95 64.69,155.09 65.68,154.27 66.66,160.84 67.32,155.91 68.31,165.77 68.96,156.74 69.95,155.09 70.93,166.59 71.59,157.56 72.57,155.91 73.56,163.30 74.22,155.09 75.20,154.27 76.19,153.45 77.17,168.23 77.83,156.74 78.81,155.09 79.80,163.30 80.46,156.74 81.44,155.91 82.43,159.20 83.41,156.74 84.40,155.91 85.38,171.51 86.04,158.38 87.02,157.56 88.01,164.95 88.67,158.38 89.65,163.30 90.31,157.56 91.29,156.74 92.28,160.84 93.26,155.91 94.25,155.09 95.23,160.02 95.89,155.09 96.88,154.27 97.86,155.91 98.85,160.84 99.50,166.59 100.16,157.56 101.15,156.74 102.13,160.02 103.12,155.91 104.10,155.09 105.00,155.09 105.99,156.74 106.97,160.02 107.63,155.91 108.61,155.09 109.60,158.38 110.58,155.91 111.57,163.30 112.22,156.74 113.21,155.09 114.20,160.02 114.85,155.09 115.84,154.27 116.82,155.09 117.81,153.94 118.79,154.60 119.78,153.94 120.76,153.45 121.75,153.12 122.73,156.74 123.39,154.27 124.38,160.02 125.03,155.91 126.02,162.48 126.67,156.74 127.66,164.12 128.32,157.56 129.30,164.95 129.96,158.38 130.94,163.30 131.60,164.95 132.26,160.84 133.24,162.48 134.23,160.02 135.21,158.38 136.20,163.30 136.86,156.74 137.84,155.91 138.83,163.30 139.48,155.91 140.00,156.57 140.99,159.85 141.64,166.42 142.30,159.03 143.28,157.39 144.27,170.53 144.93,159.85 145.91,166.42 146.57,161.49 147.55,159.85 148.54,162.32 149.52,168.06 150.51,177.09 151.17,163.14 152.15,171.35 152.81,164.78 153.79,162.32 154.45,154.11 155.44,153.28 156.42,164.78 157.08,155.75 158.06,154.93 159.05,167.24 159.70,157.39 160.36,159.85 160.69,205.83 161.02,161.49 162.00,166.42 162.66,178.74 163.32,164.78 164.30,163.14 165.29,169.70 165.94,162.32 166.93,163.96 167.91,171.35 168.90,180.38 169.56,168.06 170.54,189.41 171.20,169.70 172.18,166.42 172.84,179.56 173.83,166.42 174.81,164.78 175.80,176.27 176.45,165.60 177.44,163.96 178.42,166.42 179.08,182.84 180.07,171.35 181.05,194.33 181.71,198.44 182.36,176.27 183.35,174.63 184.01,186.95 184.66,174.63 185.65,171.35 186.63,168.88 187.62,166.42 188.60,163.96 189.59,161.49 190.57,159.85 191.23,166.42 191.89,160.67 192.87,171.35 193.53,159.85 194.52,159.03 195.50,166.42 196.16,159.03 197.14,157.39 198.13,158.21 198.78,191.05 199.44,166.42 200.10,172.99 200.76,164.78 201.41,191.05 202.07,166.42 202.73,159.85 203.38,179.56 204.04,162.32 204.70,174.63 205.35,164.78 206.34,157.39 207.32,165.60 207.98,156.57 208.97,158.21 209.95,156.57 210.94,154.93 211.92,157.39 212.91,154.11 213.89,152.46 214.26,152.35 215.53,149.17 216.81,149.81 218.08,150.44 219.10,150.82 219.99,149.17 221.26,148.28 222.53,148.53 223.55,146.63 224.19,142.81 224.69,146.63 225.46,145.35 226.22,137.72 226.73,138.36 227.24,145.35 228.26,146.63 229.02,147.52 229.78,144.72 230.55,144.08 231.31,140.90 231.82,145.35 232.58,146.63 233.60,145.35 234.62,144.72 235.89,144.97 237.16,144.72 238.44,145.35 239.71,145.74 240.34,147.01 241.23,144.08 242.25,142.81 242.89,141.54 243.52,144.08 244.54,142.17 245.56,143.45 246.58,144.08 247.60,142.81 248.36,143.45 249.12,144.08 249.63,143.19" fill="none" stroke="#2f43c0" stroke-width="0.85" stroke-linejoin="round" stroke-linecap="round"/>
<text x="137.55" y="229.20" font-size="6.5" font-weight="bold" text-anchor="middle" font-family="Liberation Sans, sans-serif" fill="#000" stroke="#000" stroke-width="0.2">Time/s</text>
<text transform="translate(9.60,173.05) rotate(-90)" font-size="6.6" font-weight="bold" text-anchor="middle" font-family="Liberation Sans, sans-serif" fill="#000" stroke="#000" stroke-width="0.2">u/(m/s)</text>
<rect x="224.30" y="120.20" width="21.20" height="14.90" fill="#fff" stroke="#4a4a4a" stroke-width="0.5"/>
<line x1="225.90" y1="124.50" x2="239.70" y2="124.50" stroke="#e8141e" stroke-width="1.0" stroke-opacity="0.85"/>
<text x="241.00" y="125.82" font-size="6.0" font-family="Liberation Serif, serif" fill="#000" stroke="#000" stroke-width="0.15"><tspan font-style="italic">u</tspan></text>
<line x1="225.90" y1="131.50" x2="239.70" y2="131.50" stroke="#2f43c0" stroke-width="1.0" stroke-opacity="0.85"/>
<text x="241.00" y="132.82" font-size="6.0" font-family="Liberation Serif, serif" fill="#000" stroke="#000" stroke-width="0.15"><tspan font-style="italic">û</tspan></text>
<rect x="40.45" y="177.30" width="52.15" height="29.20" fill="#ededed"/>
<path d="M40.45 206.43H92.60M40.45 204.95H92.60M40.45 203.48H92.60M40.45 202.00H92.60M40.45 200.53H92.60M40.45 199.05H92.60M40.45 197.58H92.60M40.45 196.10H92.60M40.45 194.63H92.60M40.45 193.15H92.60M40.45 191.68H92.60M40.45 190.20H92.60M40.45 188.73H92.60M40.45 187.25H92.60M40.45 185.78H92.60M40.45 184.31H92.60M40.45 182.83H92.60M40.45 181.36H92.60M40.45 179.88H92.60M40.45 178.41H92.60" stroke="#dadada" stroke-width="0.35" fill="none"/>
<path d="M40.45 177.30V206.50M41.75 177.30V206.50M43.06 177.30V206.50M44.36 177.30V206.50M45.67 177.30V206.50M46.97 177.30V206.50M48.27 177.30V206.50M49.58 177.30V206.50M50.88 177.30V206.50M52.18 177.30V206.50M53.49 177.30V206.50M54.79 177.30V206.50M56.09 177.30V206.50M57.40 177.30V206.50M58.70 177.30V206.50M60.01 177.30V206.50M61.31 177.30V206.50M62.61 177.30V206.50M63.92 177.30V206.50M65.22 177.30V206.50M66.53 177.30V206.50M67.83 177.30V206.50M69.13 177.30V206.50M70.44 177.30V206.50M71.74 177.30V206.50M73.04 177.30V206.50M74.35 177.30V206.50M75.65 177.30V206.50M76.96 177.30V206.50M78.26 177.30V206.50M79.56 177.30V206.50M80.87 177.30V206.50M82.17 177.30V206.50M83.47 177.30V206.50M84.78 177.30V206.50M86.08 177.30V206.50M87.39 177.30V206.50M88.69 177.30V206.50M89.99 177.30V206.50M91.30 177.30V206.50M92.60 177.30V206.50" stroke="#dadada" stroke-width="0.35" fill="none"/>
<path d="M40.45 177.30V206.50M66.53 177.30V206.50M92.60 177.30V206.50M40.45 178.41H92.60M40.45 185.78H92.60M40.45 193.15H92.60M40.45 200.53H92.60" stroke="#b0b0b0" stroke-width="0.55" fill="none"/>
<rect x="40.45" y="177.30" width="52.15" height="29.20" fill="none" stroke="#666" stroke-width="0.5"/>
<path d="M66.53 206.50v-1.2M66.53 177.30v1.2M40.45 178.41h1.2M92.60 178.41h-1.2M40.45 185.78h1.2M92.60 185.78h-1.2M40.45 193.15h1.2M92.60 193.15h-1.2M40.45 200.53h1.2M92.60 200.53h-1.2" stroke="#555" stroke-width="0.45" fill="none"/>
<text x="40.45" y="213.96" font-size="4.6" text-anchor="middle" font-family="Liberation Sans, sans-serif" fill="#111" stroke="#111" stroke-width="0.2">0</text>
<text x="66.53" y="213.96" font-size="4.6" text-anchor="middle" font-family="Liberation Sans, sans-serif" fill="#111" stroke="#111" stroke-width="0.2">1</text>
<text x="92.60" y="213.96" font-size="4.6" text-anchor="middle" font-family="Liberation Sans, sans-serif" fill="#111" stroke="#111" stroke-width="0.2">2</text>
<text x="38.45" y="179.96" font-size="4.6" text-anchor="end" font-family="Liberation Sans, sans-serif" fill="#111" stroke="#111" stroke-width="0.2">0</text>
<text x="38.45" y="187.34" font-size="4.6" text-anchor="end" font-family="Liberation Sans, sans-serif" fill="#111" stroke="#111" stroke-width="0.2">-0.01</text>
<text x="38.45" y="194.71" font-size="4.6" text-anchor="end" font-family="Liberation Sans, sans-serif" fill="#111" stroke="#111" stroke-width="0.2">-0.02</text>
<text x="38.45" y="202.08" font-size="4.6" text-anchor="end" font-family="Liberation Sans, sans-serif" fill="#111" stroke="#111" stroke-width="0.2">-0.03</text>
<polyline points="40.72,178.37 41.83,181.83 42.94,185.29 43.91,181.14 44.87,183.21 45.98,184.60 47.36,192.90 48.75,202.58 49.72,206.04 50.54,195.66 51.24,187.36 52.20,185.70 53.59,186.67 54.97,187.09 56.35,185.98 57.74,185.70 59.12,187.09 60.50,188.47 61.89,188.75 63.27,189.02 64.65,188.75 66.04,186.67 67.42,185.70 68.80,184.87 70.19,184.60 71.57,184.32 72.95,183.91 73.92,183.49 74.75,188.06 75.72,188.75 76.69,183.91 77.52,189.44 78.48,188.75 79.45,184.60 80.56,186.67 81.67,184.32 82.63,187.36 83.60,183.91 84.71,188.06 85.81,185.98 86.78,184.60 87.75,183.21 88.86,178.37 89.83,177.41 90.52,181.83 91.35,184.60 92.32,183.91" fill="none" stroke="#e8141e" stroke-width="1.0" stroke-linejoin="round" stroke-linecap="round"/>
<polyline points="40.72,177.96 42.52,178.79 43.91,181.83 45.29,183.91 46.26,180.17 47.36,180.72 48.33,185.98 49.44,200.50 50.41,206.45 51.24,199.12 52.20,190.82 53.17,188.47 54.28,188.75 55.66,189.02 57.05,188.47 58.43,187.36 59.81,188.06 61.20,189.44 62.58,189.85 63.96,189.44 65.34,188.47 66.73,186.67 68.11,185.29 69.49,184.60 70.88,184.32 72.26,183.91 73.64,183.21 74.75,183.49 75.72,187.36 76.69,188.75 77.52,184.60 78.48,183.49 79.45,186.67 80.56,188.06 81.67,185.29 82.63,188.06 83.60,185.29 84.71,184.60 85.81,188.47 86.78,187.36 87.75,185.29 88.86,181.83 89.83,177.96 90.93,177.68 91.90,181.83 92.59,182.52" fill="none" stroke="#2f43c0" stroke-width="0.95" stroke-linejoin="round" stroke-linecap="round"/>
<rect x="106.30" y="177.40" width="52.60" height="29.30" fill="#fff"/>
<path d="M106.30 205.20H158.90M106.30 203.17H158.90M106.30 201.14H158.90M106.30 199.11H158.90M106.30 197.08H158.90M106.30 195.05H158.90M106.30 193.02H158.90M106.30 190.99H158.90M106.30 188.97H158.90M106.30 186.94H158.90M106.30 184.91H158.90M106.30 182.88H158.90M106.30 180.85H158.90M106.30 178.82H158.90" stroke="#d8d8d8" stroke-width="0.4" fill="none"/>
<path d="M106.30 177.40V206.70M108.93 177.40V206.70M111.56 177.40V206.70M114.19 177.40V206.70M116.82 177.40V206.70M119.45 177.40V206.70M122.08 177.40V206.70M124.71 177.40V206.70M127.34 177.40V206.70M129.97 177.40V206.70M132.60 177.40V206.70M135.23 177.40V206.70M137.86 177.40V206.70M140.49 177.40V206.70M143.12 177.40V206.70M145.75 177.40V206.70M148.38 177.40V206.70M151.01 177.40V206.70M153.64 177.40V206.70M156.27 177.40V206.70M158.90 177.40V206.70" stroke="#d8d8d8" stroke-width="0.4" fill="none"/>
<path d="M106.30 177.40V206.70M132.60 177.40V206.70M158.90 177.40V206.70M106.30 199.11H158.90M106.30 188.97H158.90M106.30 178.82H158.90" stroke="#bcbcbc" stroke-width="0.55" fill="none"/>
<rect x="106.30" y="177.40" width="52.60" height="29.30" fill="none" stroke="#666" stroke-width="0.5"/>
<path d="M132.60 206.70v-1.2M132.60 177.40v1.2M106.30 199.11h1.2M158.90 199.11h-1.2M106.30 188.97h1.2M158.90 188.97h-1.2M106.30 178.82h1.2M158.90 178.82h-1.2" stroke="#555" stroke-width="0.45" fill="none"/>
<text x="106.30" y="213.96" font-size="4.6" text-anchor="middle" font-family="Liberation Sans, sans-serif" fill="#111" stroke="#111" stroke-width="0.2">24</text>
<text x="132.60" y="213.96" font-size="4.6" text-anchor="middle" font-family="Liberation Sans, sans-serif" fill="#111" stroke="#111" stroke-width="0.2">25</text>
<text x="158.90" y="213.96" font-size="4.6" text-anchor="middle" font-family="Liberation Sans, sans-serif" fill="#111" stroke="#111" stroke-width="0.2">26</text>
<text x="104.30" y="200.87" font-size="4.6" text-anchor="end" font-family="Liberation Sans, sans-serif" fill="#111" stroke="#111" stroke-width="0.2">0</text>
<text x="104.30" y="190.72" font-size="4.6" text-anchor="end" font-family="Liberation Sans, sans-serif" fill="#111" stroke="#111" stroke-width="0.2">5</text>
<text x="104.30" y="180.58" font-size="4.6" text-anchor="end" font-family="Liberation Sans, sans-serif" fill="#111" stroke="#111" stroke-width="0.2">10</text>
<text x="107" y="175.8" font-size="5.0" font-family="Liberation Sans, sans-serif" fill="#111" stroke="#111" stroke-width="0.1">×10<tspan font-size="3.6" dy="-1.8">-3</tspan></text>
<polyline points="106.58,193.59 107.41,205.34 108.37,202.58 109.76,199.12 111.14,197.32 113.21,197.05 115.29,196.35 116.67,194.28 117.64,193.59 118.75,195.66 120.13,196.77 122.20,196.35 124.28,197.05 126.35,196.35 127.32,192.90 128.43,195.66 129.54,201.20 130.50,206.04 131.20,203.96 131.89,198.43 133.27,198.15 135.34,198.15 136.73,197.74 137.42,177.68 138.11,179.76 139.08,194.28 140.19,194.97 141.15,188.75 141.98,180.72 142.95,188.75 143.92,191.79 145.72,192.20 147.79,191.79 149.87,191.51 151.25,188.75 152.63,185.98 154.02,185.29 155.40,186.67 156.78,190.13 158.17,191.79" fill="none" stroke="#e8141e" stroke-width="1.0" stroke-linejoin="round" stroke-linecap="round"/>
<polyline points="106.58,193.59 106.99,199.81 107.68,204.24 109.07,202.30 110.45,199.12 111.83,196.77 113.91,197.05 115.70,195.66 117.09,193.59 118.06,192.90 119.02,194.28 120.82,195.66 122.90,195.66 124.97,196.35 126.77,195.39 127.74,192.90 128.71,192.20 129.54,194.28 130.50,201.20 131.20,206.45 132.02,202.58 132.85,199.12 134.65,198.71 136.73,198.43 137.83,185.98 138.39,178.37 139.22,184.60 140.19,193.59 141.15,192.90 142.26,185.29 142.95,181.83 143.64,188.75 144.75,191.79 146.41,191.79 148.48,191.51 150.28,191.24 151.94,188.75 153.33,185.29 154.71,184.32 156.09,184.32 157.20,187.36 158.17,190.82" fill="none" stroke="#2f43c0" stroke-width="0.95" stroke-linejoin="round" stroke-linecap="round"/>
<line x1="160.6" y1="160" x2="160.6" y2="209.5" stroke="#2f43c0" stroke-width="0.8"/>
<rect x="320.40" y="132.20" width="223.80" height="81.80" fill="#fff"/>
<path d="M320.40 214.00H544.20M320.40 210.73H544.20M320.40 207.46H544.20M320.40 204.18H544.20M320.40 200.91H544.20M320.40 197.64H544.20M320.40 194.37H544.20M320.40 191.10H544.20M320.40 187.82H544.20M320.40 184.55H544.20M320.40 181.28H544.20M320.40 178.01H544.20M320.40 174.74H544.20M320.40 171.46H544.20M320.40 168.19H544.20M320.40 164.92H544.20M320.40 161.65H544.20M320.40 158.38H544.20M320.40 155.10H544.20M320.40 151.83H544.20M320.40 148.56H544.20M320.40 145.29H544.20M320.40 142.02H544.20M320.40 138.74H544.20M320.40 135.47H544.20M320.40 132.20H544.20" stroke="#cdcdcd" stroke-width="0.5" fill="none"/>
<path d="M320.40 132.20V214.00M329.01 132.20V214.00M337.62 132.20V214.00M346.22 132.20V214.00M354.83 132.20V214.00M363.44 132.20V214.00M372.05 132.20V214.00M380.65 132.20V214.00M389.26 132.20V214.00M397.87 132.20V214.00M406.48 132.20V214.00M415.08 132.20V214.00M423.69 132.20V214.00M432.30 132.20V214.00M440.91 132.20V214.00M449.52 132.20V214.00M458.12 132.20V214.00M466.73 132.20V214.00M475.34 132.20V214.00M483.95 132.20V214.00M492.55 132.20V214.00M501.16 132.20V214.00M509.77 132.20V214.00M518.38 132.20V214.00M526.98 132.20V214.00M535.59 132.20V214.00M544.20 132.20V214.00" stroke="#bcbcbc" stroke-width="0.5" fill="none"/>
<path d="M320.40 132.20V214.00M363.44 132.20V214.00M406.48 132.20V214.00M449.52 132.20V214.00M492.55 132.20V214.00M535.59 132.20V214.00M320.40 214.00H544.20M320.40 197.64H544.20M320.40 181.28H544.20M320.40 164.92H544.20M320.40 148.56H544.20M320.40 132.20H544.20" stroke="#b0b0b0" stroke-width="0.55" fill="none"/>
<rect x="320.40" y="132.20" width="223.80" height="81.80" fill="none" stroke="#8a8a8a" stroke-width="0.5"/>
<path d="M363.44 214.00v-2.0M363.44 132.20v2.0M406.48 214.00v-2.0M406.48 132.20v2.0M449.52 214.00v-2.0M449.52 132.20v2.0M492.55 214.00v-2.0M492.55 132.20v2.0M535.59 214.00v-2.0M535.59 132.20v2.0M320.40 197.64h2.0M544.20 197.64h-2.0M320.40 181.28h2.0M544.20 181.28h-2.0M320.40 164.92h2.0M544.20 164.92h-2.0M320.40 148.56h2.0M544.20 148.56h-2.0" stroke="#555" stroke-width="0.45" fill="none"/>
<text x="320.40" y="221.10" font-size="4.5" text-anchor="middle" font-family="Liberation Sans, sans-serif" fill="#111" stroke="#111" stroke-width="0.2">0</text>
<text x="363.44" y="221.10" font-size="4.5" text-anchor="middle" font-family="Liberation Sans, sans-serif" fill="#111" stroke="#111" stroke-width="0.2">5</text>
<text x="406.48" y="221.10" font-size="4.5" text-anchor="middle" font-family="Liberation Sans, sans-serif" fill="#111" stroke="#111" stroke-width="0.2">10</text>
<text x="449.52" y="221.10" font-size="4.5" text-anchor="middle" font-family="Liberation Sans, sans-serif" fill="#111" stroke="#111" stroke-width="0.2">15</text>
<text x="492.55" y="221.10" font-size="4.5" text-anchor="middle" font-family="Liberation Sans, sans-serif" fill="#111" stroke="#111" stroke-width="0.2">20</text>
<text x="535.59" y="221.10" font-size="4.5" text-anchor="middle" font-family="Liberation Sans, sans-serif" fill="#111" stroke="#111" stroke-width="0.2">25</text>
<text x="318.40" y="216.02" font-size="4.5" text-anchor="end" font-family="Liberation Sans, sans-serif" fill="#111" stroke="#111" stroke-width="0.2">-0.15</text>
<text x="318.40" y="199.66" font-size="4.5" text-anchor="end" font-family="Liberation Sans, sans-serif" fill="#111" stroke="#111" stroke-width="0.2">-0.1</text>
<text x="318.40" y="183.30" font-size="4.5" text-anchor="end" font-family="Liberation Sans, sans-serif" fill="#111" stroke="#111" stroke-width="0.2">-0.05</text>
<text x="318.40" y="166.94" font-size="4.5" text-anchor="end" font-family="Liberation Sans, sans-serif" fill="#111" stroke="#111" stroke-width="0.2">0</text>
<text x="318.40" y="150.58" font-size="4.5" text-anchor="end" font-family="Liberation Sans, sans-serif" fill="#111" stroke="#111" stroke-width="0.2">0.05</text>
<text x="318.40" y="134.22" font-size="4.5" text-anchor="end" font-family="Liberation Sans, sans-serif" fill="#111" stroke="#111" stroke-width="0.2">0.1</text>
<polyline points="320.46,164.81 321.28,167.77 321.94,171.05 322.60,165.30 323.25,155.45 323.91,166.95 324.57,164.48 325.55,163.66 326.54,164.81 327.52,164.48 328.51,165.30 329.49,164.15 330.48,165.30 331.46,164.48 332.12,166.95 332.78,162.84 333.44,166.12 334.09,163.66 334.75,165.80 335.41,162.84 336.06,165.30 336.72,162.02 337.38,166.95 338.03,163.66 338.69,164.48 339.35,156.27 340.00,171.05 340.66,162.84 341.32,168.59 341.97,160.38 342.63,166.12 343.29,163.66 343.94,165.30 344.93,164.48 345.91,165.30 346.90,164.48 347.89,165.30 348.87,163.66 349.53,168.59 350.18,162.02 350.84,166.95 351.50,162.84 352.15,166.12 352.81,163.66 353.47,179.26 354.12,152.99 354.78,172.69 355.44,161.20 356.10,167.77 356.75,159.56 357.41,170.23 358.07,158.74 358.72,169.41 359.38,160.38 360.04,168.59 360.69,162.02 361.35,172.69 362.01,159.56 362.66,167.77 363.32,162.84 363.98,166.95 364.63,163.66 365.29,173.51 365.95,158.74 366.60,168.59 367.26,162.84 367.92,166.12 368.57,164.48 369.23,167.77 369.89,162.02 370.55,166.95 371.20,160.38 371.86,175.98 372.52,157.09 373.17,171.05 373.83,159.56 374.49,170.23 375.14,158.74 375.80,168.59 376.46,160.38 377.11,167.77 377.77,162.84 378.43,171.05 379.08,162.02 379.74,176.80 380.40,154.63 381.05,171.87 381.71,157.91 382.37,171.05 383.02,157.09 383.68,170.23 384.34,159.56 385.00,169.41 385.65,161.20 386.31,168.59 386.97,162.84 387.62,166.95 388.28,163.66 388.94,167.77 389.59,162.02 390.25,169.41 390.91,162.84 391.56,166.95 392.22,163.66 392.88,167.77 393.53,174.33 394.19,157.91 394.85,168.59 395.50,162.02 396.16,166.95 396.82,163.66 397.47,166.12 398.13,162.84 398.79,167.77 399.44,163.66 400.00,164.76 400.98,168.44 401.96,161.09 402.94,169.67 403.92,162.31 404.90,167.22 405.88,159.86 406.86,168.44 407.84,163.54 408.82,167.22 409.80,162.31 410.78,165.99 411.76,161.09 412.75,168.44 413.73,162.31 414.71,166.73 415.69,163.54 416.67,168.44 417.65,158.64 418.63,169.67 419.61,162.31 420.59,167.22 421.57,161.09 422.55,169.67 423.53,159.86 424.51,168.44 425.49,162.31 426.47,167.22 427.45,161.09 428.43,168.44 429.41,163.54 430.39,165.99 431.37,162.31 432.35,167.22 433.33,164.76 434.31,170.89 435.29,162.31 436.27,175.79 437.25,156.19 438.24,173.34 439.22,158.64 440.20,170.89 441.18,159.86 442.16,172.12 443.14,161.09 444.12,170.89 445.10,157.41 446.08,174.57 447.06,153.74 448.04,173.34 449.02,159.86 450.00,165.27 450.73,170.73 451.45,159.82 452.18,176.18 452.91,156.18 453.64,169.82 454.36,159.82 454.91,132.00 455.45,204.00 456.18,165.27 456.91,158.00 457.64,150.73 458.36,180.73 459.09,156.18 459.82,170.73 460.55,159.82 461.27,174.36 462.00,161.64 462.73,156.18 463.45,177.09 464.18,154.36 464.91,152.55 465.64,183.45 466.36,148.00 467.09,174.36 467.82,153.45 468.55,173.45 469.27,158.00 470.00,170.73 470.73,156.18 471.45,168.91 472.18,158.00 472.91,172.55 473.64,161.64 474.36,180.73 475.09,148.91 475.82,178.91 476.55,145.27 477.27,176.18 478.00,154.36 478.73,170.73 479.45,159.82 480.18,153.45 480.91,168.00 481.64,160.73 482.36,165.27 483.09,161.64 483.82,167.09 484.55,160.73 485.27,168.91 486.00,158.00 486.73,172.55 487.45,156.18 488.18,169.82 488.91,161.64 489.64,167.09 490.36,162.55 491.09,168.00 491.82,160.73 492.55,176.18 493.27,189.82 494.00,143.45 494.73,181.64 495.45,148.91 496.18,174.36 496.91,153.45 497.64,178.00 498.36,151.64 499.09,174.36 499.82,158.00 500.55,173.45 501.27,159.82 502.00,170.73 502.73,158.91 503.45,167.09 504.18,162.55 504.91,165.27 505.64,163.45 506.36,165.27 507.45,164.00 508.55,165.27 509.64,163.82 510.73,165.64 511.82,164.36 512.91,165.27 514.00,163.45 515.09,166.18 516.18,164.36 517.27,165.27 518.36,163.45 519.45,166.18 520.18,159.82 520.91,167.09 521.64,169.82 522.36,161.64 523.09,168.00 523.82,163.45 524.55,165.27 525.64,164.36 526.73,165.64 527.82,164.00 528.91,165.27 530.00,164.55 531.09,165.64 532.18,164.36 533.27,165.27 534.36,163.82 535.45,166.18 536.55,164.91 537.64,163.45 538.36,168.00 539.09,162.55 539.82,166.18 540.55,164.36 541.64,165.27 542.73,164.55 543.82,165.27" fill="none" stroke="#e8141e" stroke-width="0.95" stroke-linejoin="round" stroke-linecap="round"/>
<text x="432.30" y="229.20" font-size="6.5" font-weight="bold" text-anchor="middle" font-family="Liberation Sans, sans-serif" fill="#000" stroke="#000" stroke-width="0.2">Time/s</text>
<text transform="translate(303.80,173.10) rotate(-90)" font-size="6.6" font-weight="bold" text-anchor="middle" font-family="Liberation Sans, sans-serif" fill="#000" stroke="#000" stroke-width="0.2">u/(m/s)</text>
<rect x="467.40" y="134.20" width="73.60" height="8.50" fill="#fff" stroke="#4a4a4a" stroke-width="0.5"/>
<line x1="469.80" y1="138.45" x2="482.80" y2="138.45" stroke="#e8141e" stroke-width="0.9"/>
<text x="484.50" y="140.31" font-size="6.2" textLength="54.5" lengthAdjust="spacingAndGlyphs" font-family="Liberation Serif, serif" fill="#000" stroke="#000" stroke-width="0.1">Observation error of <tspan font-style="italic">u</tspan></text>
<rect x="334.30" y="181.20" width="47.20" height="22.00" fill="#fff"/>
<path d="M334.30 201.06H381.50M334.30 198.87H381.50M334.30 196.68H381.50M334.30 194.50H381.50M334.30 192.31H381.50M334.30 190.12H381.50M334.30 187.94H381.50M334.30 185.75H381.50M334.30 183.56H381.50M334.30 181.37H381.50" stroke="#d8d8d8" stroke-width="0.4" fill="none"/>
<path d="M334.30 181.20V203.20M336.66 181.20V203.20M339.02 181.20V203.20M341.38 181.20V203.20M343.74 181.20V203.20M346.10 181.20V203.20M348.46 181.20V203.20M350.82 181.20V203.20M353.18 181.20V203.20M355.54 181.20V203.20M357.90 181.20V203.20M360.26 181.20V203.20M362.62 181.20V203.20M364.98 181.20V203.20M367.34 181.20V203.20M369.70 181.20V203.20M372.06 181.20V203.20M374.42 181.20V203.20M376.78 181.20V203.20M379.14 181.20V203.20M381.50 181.20V203.20" stroke="#d8d8d8" stroke-width="0.4" fill="none"/>
<path d="M334.30 181.20V203.20M357.90 181.20V203.20M381.50 181.20V203.20M334.30 203.24H381.50M334.30 194.50H381.50M334.30 185.75H381.50" stroke="#bcbcbc" stroke-width="0.55" fill="none"/>
<rect x="334.30" y="181.20" width="47.20" height="22.00" fill="none" stroke="#666" stroke-width="0.5"/>
<path d="M357.90 203.20v-1.2M357.90 181.20v1.2M334.30 194.50h1.2M381.50 194.50h-1.2M334.30 185.75h1.2M381.50 185.75h-1.2" stroke="#555" stroke-width="0.45" fill="none"/>
<text x="334.30" y="210.81" font-size="4.6" text-anchor="middle" font-family="Liberation Sans, sans-serif" fill="#111" stroke="#111" stroke-width="0.2">0</text>
<text x="357.90" y="210.81" font-size="4.6" text-anchor="middle" font-family="Liberation Sans, sans-serif" fill="#111" stroke="#111" stroke-width="0.2">1</text>
<text x="381.50" y="210.81" font-size="4.6" text-anchor="middle" font-family="Liberation Sans, sans-serif" fill="#111" stroke="#111" stroke-width="0.2">2</text>
<text x="332.30" y="205.10" font-size="4.6" text-anchor="end" font-family="Liberation Sans, sans-serif" fill="#111" stroke="#111" stroke-width="0.2">-0.02</text>
<text x="332.30" y="196.35" font-size="4.6" text-anchor="end" font-family="Liberation Sans, sans-serif" fill="#111" stroke="#111" stroke-width="0.2">0</text>
<text x="332.30" y="187.60" font-size="4.6" text-anchor="end" font-family="Liberation Sans, sans-serif" fill="#111" stroke="#111" stroke-width="0.2">0.02</text>
<polyline points="334.34,194.26 335.36,195.54 336.63,198.72 337.90,194.90 338.79,191.08 339.81,198.72 341.08,201.90 342.10,203.81 342.87,191.08 343.37,182.18 344.14,184.72 344.90,192.36 345.92,194.26 347.19,192.36 348.72,192.99 350.24,193.37 351.90,194.65 353.55,193.37 355.08,192.61 356.61,192.10 358.26,192.99 359.91,193.88 361.44,193.88 362.97,194.26 364.62,194.26 365.51,196.81 366.53,193.63 367.29,191.72 368.06,197.45 369.07,194.90 370.09,195.54 370.98,198.08 371.87,194.26 372.89,192.36 373.91,196.17 374.80,192.99 375.69,194.26 376.71,191.72 377.73,192.99 378.49,190.45 379.25,192.36 380.27,197.45 381.29,194.90" fill="none" stroke="#e8141e" stroke-width="1.0" stroke-linejoin="round" stroke-linecap="round"/>
<rect x="398.70" y="181.50" width="47.30" height="22.30" fill="#e4e4e4"/>
<path d="M398.70 203.80H446.00M398.70 202.60H446.00M398.70 201.40H446.00M398.70 200.20H446.00M398.70 199.00H446.00M398.70 197.81H446.00M398.70 196.61H446.00M398.70 195.41H446.00M398.70 194.21H446.00M398.70 193.01H446.00M398.70 191.81H446.00M398.70 190.61H446.00M398.70 189.41H446.00M398.70 188.21H446.00M398.70 187.02H446.00M398.70 185.82H446.00M398.70 184.62H446.00M398.70 183.42H446.00M398.70 182.22H446.00" stroke="#d0d0d0" stroke-width="0.35" fill="none"/>
<path d="M398.70 181.50V203.80M399.65 181.50V203.80M400.59 181.50V203.80M401.54 181.50V203.80M402.48 181.50V203.80M403.43 181.50V203.80M404.38 181.50V203.80M405.32 181.50V203.80M406.27 181.50V203.80M407.21 181.50V203.80M408.16 181.50V203.80M409.11 181.50V203.80M410.05 181.50V203.80M411.00 181.50V203.80M411.94 181.50V203.80M412.89 181.50V203.80M413.84 181.50V203.80M414.78 181.50V203.80M415.73 181.50V203.80M416.67 181.50V203.80M417.62 181.50V203.80M418.57 181.50V203.80M419.51 181.50V203.80M420.46 181.50V203.80M421.40 181.50V203.80M422.35 181.50V203.80M423.30 181.50V203.80M424.24 181.50V203.80M425.19 181.50V203.80M426.13 181.50V203.80M427.08 181.50V203.80M428.03 181.50V203.80M428.97 181.50V203.80M429.92 181.50V203.80M430.86 181.50V203.80M431.81 181.50V203.80M432.76 181.50V203.80M433.70 181.50V203.80M434.65 181.50V203.80M435.59 181.50V203.80M436.54 181.50V203.80M437.49 181.50V203.80M438.43 181.50V203.80M439.38 181.50V203.80M440.32 181.50V203.80M441.27 181.50V203.80M442.22 181.50V203.80M443.16 181.50V203.80M444.11 181.50V203.80M445.05 181.50V203.80M446.00 181.50V203.80" stroke="#d0d0d0" stroke-width="0.35" fill="none"/>
<path d="M398.70 181.50V203.80M422.35 181.50V203.80M446.00 181.50V203.80M398.70 200.20H446.00M398.70 194.21H446.00M398.70 188.21H446.00M398.70 182.22H446.00" stroke="#c0c0c0" stroke-width="0.55" fill="none"/>
<rect x="398.70" y="181.50" width="47.30" height="22.30" fill="none" stroke="#666" stroke-width="0.5"/>
<path d="M422.35 203.80v-1.2M422.35 181.50v1.2M398.70 200.20h1.2M446.00 200.20h-1.2M398.70 194.21h1.2M446.00 194.21h-1.2M398.70 188.21h1.2M446.00 188.21h-1.2M398.70 182.22h1.2M446.00 182.22h-1.2" stroke="#555" stroke-width="0.45" fill="none"/>
<text x="398.70" y="210.81" font-size="4.6" text-anchor="middle" font-family="Liberation Sans, sans-serif" fill="#111" stroke="#111" stroke-width="0.2">24</text>
<text x="422.35" y="210.81" font-size="4.6" text-anchor="middle" font-family="Liberation Sans, sans-serif" fill="#111" stroke="#111" stroke-width="0.2">25</text>
<text x="446.00" y="210.81" font-size="4.6" text-anchor="middle" font-family="Liberation Sans, sans-serif" fill="#111" stroke="#111" stroke-width="0.2">26</text>
<text x="396.70" y="202.11" font-size="4.6" text-anchor="end" font-family="Liberation Sans, sans-serif" fill="#111" stroke="#111" stroke-width="0.2">-5</text>
<text x="396.70" y="196.11" font-size="4.6" text-anchor="end" font-family="Liberation Sans, sans-serif" fill="#111" stroke="#111" stroke-width="0.2">0</text>
<text x="396.70" y="190.12" font-size="4.6" text-anchor="end" font-family="Liberation Sans, sans-serif" fill="#111" stroke="#111" stroke-width="0.2">5</text>
<text x="396.70" y="184.13" font-size="4.6" text-anchor="end" font-family="Liberation Sans, sans-serif" fill="#111" stroke="#111" stroke-width="0.2">10</text>
<text x="399.5" y="179.9" font-size="5.0" font-family="Liberation Sans, sans-serif" fill="#111" stroke="#111" stroke-width="0.1">×10<tspan font-size="3.6" dy="-1.8">-3</tspan></text>
<polyline points="398.72,200.63 399.74,194.90 400.63,191.72 401.90,191.34 403.18,192.36 404.45,194.65 405.72,193.88 406.99,192.36 407.88,192.10 408.90,196.17 410.17,195.54 411.45,194.65 413.35,194.90 415.26,194.65 416.79,194.26 417.81,191.72 418.82,195.54 419.72,199.35 420.61,200.63 421.62,189.81 422.64,189.18 423.53,192.99 424.80,193.63 425.69,193.63 426.46,182.18 427.22,182.81 427.73,203.81 428.62,197.45 429.51,191.08 430.27,185.99 431.04,194.90 431.80,199.99 432.82,194.90 434.35,194.26 436.25,193.88 437.91,192.99 439.44,191.08 440.45,190.45 441.34,192.99 442.62,194.90 443.89,197.45 444.78,196.17 445.80,193.63" fill="none" stroke="#e8141e" stroke-width="1.0" stroke-linejoin="round" stroke-linecap="round"/>
<rect x="25.60" y="246.00" width="224.20" height="80.80" fill="#fff"/>
<path d="M25.60 326.80H249.80M25.60 324.49H249.80M25.60 322.18H249.80M25.60 319.87H249.80M25.60 317.57H249.80M25.60 315.26H249.80M25.60 312.95H249.80M25.60 310.64H249.80M25.60 308.33H249.80M25.60 306.02H249.80M25.60 303.71H249.80M25.60 301.41H249.80M25.60 299.10H249.80M25.60 296.79H249.80M25.60 294.48H249.80M25.60 292.17H249.80M25.60 289.86H249.80M25.60 287.55H249.80M25.60 285.25H249.80M25.60 282.94H249.80M25.60 280.63H249.80M25.60 278.32H249.80M25.60 276.01H249.80M25.60 273.70H249.80M25.60 271.39H249.80M25.60 269.09H249.80M25.60 266.78H249.80M25.60 264.47H249.80M25.60 262.16H249.80M25.60 259.85H249.80M25.60 257.54H249.80M25.60 255.23H249.80M25.60 252.93H249.80M25.60 250.62H249.80M25.60 248.31H249.80M25.60 246.00H249.80" stroke="#cdcdcd" stroke-width="0.5" fill="none"/>
<path d="M25.60 246.00V326.80M34.22 246.00V326.80M42.85 246.00V326.80M51.47 246.00V326.80M60.09 246.00V326.80M68.72 246.00V326.80M77.34 246.00V326.80M85.96 246.00V326.80M94.58 246.00V326.80M103.21 246.00V326.80M111.83 246.00V326.80M120.45 246.00V326.80M129.08 246.00V326.80M137.70 246.00V326.80M146.32 246.00V326.80M154.95 246.00V326.80M163.57 246.00V326.80M172.19 246.00V326.80M180.82 246.00V326.80M189.44 246.00V326.80M198.06 246.00V326.80M206.68 246.00V326.80M215.31 246.00V326.80M223.93 246.00V326.80M232.55 246.00V326.80M241.18 246.00V326.80M249.80 246.00V326.80" stroke="#bcbcbc" stroke-width="0.5" fill="none"/>
<path d="M25.60 246.00V326.80M68.72 246.00V326.80M111.83 246.00V326.80M154.95 246.00V326.80M198.06 246.00V326.80M241.18 246.00V326.80M25.60 326.80H249.80M25.60 315.26H249.80M25.60 303.71H249.80M25.60 292.17H249.80M25.60 280.63H249.80M25.60 269.09H249.80M25.60 257.54H249.80M25.60 246.00H249.80" stroke="#b0b0b0" stroke-width="0.55" fill="none"/>
<rect x="25.60" y="246.00" width="224.20" height="80.80" fill="none" stroke="#8a8a8a" stroke-width="0.5"/>
<path d="M68.72 326.80v-2.0M68.72 246.00v2.0M111.83 326.80v-2.0M111.83 246.00v2.0M154.95 326.80v-2.0M154.95 246.00v2.0M198.06 326.80v-2.0M198.06 246.00v2.0M241.18 326.80v-2.0M241.18 246.00v2.0M25.60 315.26h2.0M249.80 315.26h-2.0M25.60 303.71h2.0M249.80 303.71h-2.0M25.60 292.17h2.0M249.80 292.17h-2.0M25.60 280.63h2.0M249.80 280.63h-2.0M25.60 269.09h2.0M249.80 269.09h-2.0M25.60 257.54h2.0M249.80 257.54h-2.0" stroke="#555" stroke-width="0.45" fill="none"/>
<text x="25.60" y="333.90" font-size="4.5" text-anchor="middle" font-family="Liberation Sans, sans-serif" fill="#111" stroke="#111" stroke-width="0.2">0</text>
<text x="68.72" y="333.90" font-size="4.5" text-anchor="middle" font-family="Liberation Sans, sans-serif" fill="#111" stroke="#111" stroke-width="0.2">5</text>
<text x="111.83" y="333.90" font-size="4.5" text-anchor="middle" font-family="Liberation Sans, sans-serif" fill="#111" stroke="#111" stroke-width="0.2">10</text>
<text x="154.95" y="333.90" font-size="4.5" text-anchor="middle" font-family="Liberation Sans, sans-serif" fill="#111" stroke="#111" stroke-width="0.2">15</text>
<text x="198.06" y="333.90" font-size="4.5" text-anchor="middle" font-family="Liberation Sans, sans-serif" fill="#111" stroke="#111" stroke-width="0.2">20</text>
<text x="241.18" y="333.90" font-size="4.5" text-anchor="middle" font-family="Liberation Sans, sans-serif" fill="#111" stroke="#111" stroke-width="0.2">25</text>
<text x="23.60" y="328.82" font-size="4.5" text-anchor="end" font-family="Liberation Sans, sans-serif" fill="#111" stroke="#111" stroke-width="0.2">0.15</text>
<text x="23.60" y="317.28" font-size="4.5" text-anchor="end" font-family="Liberation Sans, sans-serif" fill="#111" stroke="#111" stroke-width="0.2">0.2</text>
<text x="23.60" y="305.73" font-size="4.5" text-anchor="end" font-family="Liberation Sans, sans-serif" fill="#111" stroke="#111" stroke-width="0.2">0.25</text>
<text x="23.60" y="294.19" font-size="4.5" text-anchor="end" font-family="Liberation Sans, sans-serif" fill="#111" stroke="#111" stroke-width="0.2">0.3</text>
<text x="23.60" y="282.65" font-size="4.5" text-anchor="end" font-family="Liberation Sans, sans-serif" fill="#111" stroke="#111" stroke-width="0.2">0.35</text>
<text x="23.60" y="271.11" font-size="4.5" text-anchor="end" font-family="Liberation Sans, sans-serif" fill="#111" stroke="#111" stroke-width="0.2">0.4</text>
<text x="23.60" y="259.56" font-size="4.5" text-anchor="end" font-family="Liberation Sans, sans-serif" fill="#111" stroke="#111" stroke-width="0.2">0.45</text>
<text x="23.60" y="248.02" font-size="4.5" text-anchor="end" font-family="Liberation Sans, sans-serif" fill="#111" stroke="#111" stroke-width="0.2">0.5</text>
<polyline points="25.61,264.85 26.27,269.78 26.93,272.24 27.58,271.42 28.24,276.35 28.90,282.09 29.55,286.20 30.21,285.38 30.87,287.02 31.52,289.48 32.18,283.74 32.84,285.38 33.49,280.45 34.15,277.99 34.81,279.63 35.46,284.56 36.12,275.53 36.78,271.42 37.44,274.70 38.09,270.60 38.75,273.06 39.41,265.67 40.06,271.42 40.72,274.70 41.38,276.35 42.03,271.42 42.69,275.53 43.35,268.96 44.00,272.24 44.66,276.35 45.32,271.42 45.97,273.88 46.63,264.03 47.29,273.06 47.94,270.60 48.60,275.53 49.26,271.42 49.91,274.70 50.57,276.35 51.23,279.63 51.89,275.53 52.54,277.99 53.20,274.70 53.86,272.24 54.51,275.53 55.17,273.88 55.83,277.17 56.48,272.24 57.14,275.53 57.80,268.14 58.45,270.60 59.11,275.53 59.77,271.42 60.42,276.35 61.08,278.81 61.74,281.27 62.39,279.63 63.05,283.74 63.71,282.09 64.36,287.84 65.02,285.38 65.68,290.30 66.33,287.02 66.99,291.95 67.65,289.48 68.31,296.05 68.96,292.77 69.62,303.44 70.28,291.95 70.93,296.05 71.59,290.30 72.25,297.69 72.90,304.26 73.56,290.30 74.22,294.41 74.87,288.66 75.53,295.23 76.19,284.56 76.84,291.95 77.50,282.91 78.16,290.30 78.81,287.84 79.47,294.41 80.13,287.02 80.78,291.95 81.44,288.66 82.10,285.38 82.76,293.59 83.41,284.56 84.07,290.30 84.73,283.74 85.38,287.84 86.04,281.27 86.70,294.41 87.35,282.91 88.01,287.84 88.67,296.87 89.32,283.74 89.98,278.81 90.64,287.02 91.29,284.56 91.95,297.69 92.61,287.02 93.26,290.30 93.92,282.91 94.58,284.56 95.23,282.09 95.89,287.84 96.55,285.38 97.21,291.12 97.86,287.84 98.52,292.77 99.18,289.48 99.83,293.59 100.49,290.30 101.15,289.48 101.80,298.51 102.46,291.12 103.12,286.20 103.77,287.84 104.43,280.45 105.00,281.42 105.99,279.78 106.64,282.24 107.30,278.14 107.96,280.60 108.61,281.42 109.27,283.88 109.93,286.35 110.58,287.17 111.24,285.53 111.90,286.35 112.55,282.24 113.21,279.78 113.87,277.32 114.52,272.39 115.18,280.60 115.84,275.67 116.49,278.96 117.15,274.85 117.81,281.42 118.46,277.32 119.12,283.06 119.78,276.49 120.44,273.21 121.09,278.96 121.75,274.85 122.41,283.88 123.06,274.03 123.72,279.78 124.38,289.63 125.03,281.42 125.69,279.78 126.35,284.70 127.00,281.42 127.66,283.88 128.32,283.06 128.97,286.35 129.63,283.06 130.29,287.99 130.94,286.35 131.60,289.63 132.26,291.27 132.91,289.63 133.57,292.91 134.23,295.38 134.89,304.41 135.54,300.30 136.20,297.02 136.86,292.09 137.51,288.81 138.17,284.70 138.83,287.17 139.48,284.70 140.14,287.99 140.80,289.63 141.45,291.27 142.11,293.74 142.77,290.45 143.42,297.02 144.08,291.27 144.74,295.38 145.39,299.48 146.05,293.74 146.71,297.02 147.36,294.56 148.02,297.84 148.68,293.74 149.33,296.20 149.99,293.74 150.65,295.38 151.31,291.27 151.96,294.56 152.62,292.09 153.28,297.02 153.93,302.77 154.59,288.81 155.25,294.56 155.90,289.63 156.56,292.09 157.22,295.38 157.87,292.91 158.53,297.02 159.19,300.30 159.84,301.95 160.50,292.09 161.16,299.48 161.81,291.27 162.47,296.20 163.13,301.95 163.78,294.56 164.44,302.77 165.10,295.38 165.76,300.30 166.41,294.56 167.07,297.02 167.73,292.91 168.38,295.38 169.04,297.84 169.70,304.41 170.35,299.48 171.01,297.02 171.67,292.91 172.32,297.84 172.98,301.12 173.64,305.23 174.29,307.69 175.00,303.05 175.98,300.60 176.96,304.27 177.94,311.63 178.92,298.15 179.90,295.70 180.88,296.92 181.86,293.25 182.84,294.47 183.82,290.79 184.80,288.34 185.78,289.57 186.76,284.67 187.75,285.89 188.73,280.99 189.71,279.76 190.69,282.22 191.67,279.76 192.65,285.89 193.63,284.67 194.61,289.57 195.59,287.12 196.57,295.70 197.55,292.02 198.53,294.47 199.51,293.25 200.00,295.19 200.92,296.92 201.61,301.53 202.31,314.80 203.00,299.23 203.69,302.69 204.38,298.65 205.07,308.45 205.77,314.80 206.34,325.18 206.92,313.64 207.84,314.22 208.77,310.76 209.69,310.18 210.61,303.84 211.30,298.07 212.00,303.84 212.69,296.92 213.61,295.77 214.53,291.15 215.22,290.00 216.18,283.44 217.16,279.76 218.14,269.96 219.12,267.51 220.10,273.64 221.08,266.28 222.06,265.06 223.04,261.38 224.02,265.06 225.00,255.25 225.98,260.16 226.96,258.93 227.94,265.06 228.92,260.16 229.90,267.51 230.88,265.06 231.86,263.83 232.84,258.93 233.82,263.83 234.80,260.16 235.78,265.06 236.76,262.61 237.75,260.16 238.73,271.19 239.71,258.93 240.69,263.83 241.67,260.16 242.65,265.06 243.63,260.16 244.61,262.61 245.59,258.93 246.57,265.06 247.55,261.38 248.53,266.28 249.51,254.03" fill="none" stroke="#e8141e" stroke-width="0.95" stroke-linejoin="round" stroke-linecap="round"/>
<text x="137.70" y="342.00" font-size="6.5" font-weight="bold" text-anchor="middle" font-family="Liberation Sans, sans-serif" fill="#000" stroke="#000" stroke-width="0.2">Time/s</text>
<text transform="translate(9.60,286.40) rotate(-90)" font-size="6.6" font-weight="bold" text-anchor="middle" font-family="Liberation Sans, sans-serif" fill="#000" stroke="#000" stroke-width="0.2">u/(m/s)</text>
<rect x="68.40" y="245.90" width="63.50" height="20.50" fill="#e2e2e2"/>
<path d="M68.40 265.91H131.90M68.40 264.37H131.90M68.40 262.83H131.90M68.40 261.29H131.90M68.40 259.75H131.90M68.40 258.21H131.90M68.40 256.67H131.90M68.40 255.13H131.90M68.40 253.60H131.90M68.40 252.06H131.90M68.40 250.52H131.90M68.40 248.98H131.90M68.40 247.44H131.90M68.40 245.90H131.90" stroke="#cecece" stroke-width="0.35" fill="none"/>
<path d="M68.40 245.90V266.40M69.67 245.90V266.40M70.94 245.90V266.40M72.21 245.90V266.40M73.48 245.90V266.40M74.75 245.90V266.40M76.02 245.90V266.40M77.29 245.90V266.40M78.56 245.90V266.40M79.83 245.90V266.40M81.10 245.90V266.40M82.37 245.90V266.40M83.64 245.90V266.40M84.91 245.90V266.40M86.18 245.90V266.40M87.45 245.90V266.40M88.72 245.90V266.40M89.99 245.90V266.40M91.26 245.90V266.40M92.53 245.90V266.40M93.80 245.90V266.40M95.07 245.90V266.40M96.34 245.90V266.40M97.61 245.90V266.40M98.88 245.90V266.40M100.15 245.90V266.40M101.42 245.90V266.40M102.69 245.90V266.40M103.96 245.90V266.40M105.23 245.90V266.40M106.50 245.90V266.40M107.77 245.90V266.40M109.04 245.90V266.40M110.31 245.90V266.40M111.58 245.90V266.40M112.85 245.90V266.40M114.12 245.90V266.40M115.39 245.90V266.40M116.66 245.90V266.40M117.93 245.90V266.40M119.20 245.90V266.40M120.47 245.90V266.40M121.74 245.90V266.40M123.01 245.90V266.40M124.28 245.90V266.40M125.55 245.90V266.40M126.82 245.90V266.40M128.09 245.90V266.40M129.36 245.90V266.40M130.63 245.90V266.40M131.90 245.90V266.40" stroke="#cecece" stroke-width="0.35" fill="none"/>
<path d="M68.40 245.90V266.40M84.28 245.90V266.40M100.15 245.90V266.40M116.03 245.90V266.40M131.90 245.90V266.40M68.40 265.91H131.90M68.40 258.21H131.90M68.40 250.52H131.90" stroke="#bebebe" stroke-width="0.55" fill="none"/>
<rect x="68.40" y="245.90" width="63.50" height="20.50" fill="none" stroke="#666" stroke-width="0.5"/>
<path d="M84.28 266.40v-1.2M84.28 245.90v1.2M100.15 266.40v-1.2M100.15 245.90v1.2M116.03 266.40v-1.2M116.03 245.90v1.2M68.40 258.21h1.2M131.90 258.21h-1.2M68.40 250.52h1.2M131.90 250.52h-1.2" stroke="#555" stroke-width="0.45" fill="none"/>
<text x="68.40" y="272.61" font-size="4.6" text-anchor="middle" font-family="Liberation Sans, sans-serif" fill="#111" stroke="#111" stroke-width="0.2">0</text>
<text x="84.28" y="272.61" font-size="4.6" text-anchor="middle" font-family="Liberation Sans, sans-serif" fill="#111" stroke="#111" stroke-width="0.2">0.5</text>
<text x="100.15" y="272.61" font-size="4.6" text-anchor="middle" font-family="Liberation Sans, sans-serif" fill="#111" stroke="#111" stroke-width="0.2">1</text>
<text x="116.03" y="272.61" font-size="4.6" text-anchor="middle" font-family="Liberation Sans, sans-serif" fill="#111" stroke="#111" stroke-width="0.2">1.5</text>
<text x="131.90" y="272.61" font-size="4.6" text-anchor="middle" font-family="Liberation Sans, sans-serif" fill="#111" stroke="#111" stroke-width="0.2">2</text>
<text x="66.40" y="267.26" font-size="4.6" text-anchor="end" font-family="Liberation Sans, sans-serif" fill="#111" stroke="#111" stroke-width="0.2">0.3</text>
<text x="66.40" y="259.57" font-size="4.6" text-anchor="end" font-family="Liberation Sans, sans-serif" fill="#111" stroke="#111" stroke-width="0.2">0.35</text>
<text x="66.40" y="251.87" font-size="4.6" text-anchor="end" font-family="Liberation Sans, sans-serif" fill="#111" stroke="#111" stroke-width="0.2">0.4</text>
<polyline points="68.42,249.18 69.73,250.82 71.37,251.31 73.33,251.64 74.97,252.46 76.60,254.91 78.24,255.73 79.55,258.19 81.19,261.13 82.82,262.28 84.46,261.95 86.10,261.46 87.73,262.28 89.37,261.46 90.68,263.10 92.32,261.13 93.95,259.00 95.92,258.19 97.55,256.55 99.52,256.22 101.15,256.55 102.79,258.51 104.43,260.15 105.74,256.55 107.05,254.91 108.19,255.73 109.83,251.64 110.97,251.31 112.28,254.59 113.59,252.95 115.23,251.97 116.54,253.28 118.01,250.82 119.65,248.37 120.79,248.04 122.10,251.64 123.41,253.28 125.05,254.09 126.36,255.40 128.32,255.24 129.96,254.09 131.27,251.97" fill="none" stroke="#e8141e" stroke-width="1.0" stroke-linejoin="round" stroke-linecap="round"/>
<rect x="149.20" y="246.20" width="63.30" height="19.60" fill="#fff"/>
<path d="M149.20 264.50H212.50M149.20 262.09H212.50M149.20 259.68H212.50M149.20 257.28H212.50M149.20 254.87H212.50M149.20 252.46H212.50M149.20 250.05H212.50M149.20 247.64H212.50" stroke="#cfcfcf" stroke-width="0.5" fill="none"/>
<path d="M149.20 246.20V265.80M152.37 246.20V265.80M155.53 246.20V265.80M158.70 246.20V265.80M161.86 246.20V265.80M165.03 246.20V265.80M168.19 246.20V265.80M171.36 246.20V265.80M174.52 246.20V265.80M177.69 246.20V265.80M180.85 246.20V265.80M184.02 246.20V265.80M187.18 246.20V265.80M190.35 246.20V265.80M193.51 246.20V265.80M196.68 246.20V265.80M199.84 246.20V265.80M203.01 246.20V265.80M206.17 246.20V265.80M209.34 246.20V265.80M212.50 246.20V265.80" stroke="#cfcfcf" stroke-width="0.5" fill="none"/>
<path d="M149.20 246.20V265.80M165.02 246.20V265.80M180.85 246.20V265.80M196.68 246.20V265.80M212.50 246.20V265.80M149.20 262.09H212.50M149.20 250.05H212.50" stroke="#b4b4b4" stroke-width="0.55" fill="none"/>
<rect x="149.20" y="246.20" width="63.30" height="19.60" fill="none" stroke="#666" stroke-width="0.5"/>
<path d="M165.02 265.80v-1.2M165.02 246.20v1.2M180.85 265.80v-1.2M180.85 246.20v1.2M196.68 265.80v-1.2M196.68 246.20v1.2M149.20 262.09h1.2M212.50 262.09h-1.2M149.20 250.05h1.2M212.50 250.05h-1.2" stroke="#555" stroke-width="0.45" fill="none"/>
<text x="149.20" y="272.46" font-size="4.6" text-anchor="middle" font-family="Liberation Sans, sans-serif" fill="#111" stroke="#111" stroke-width="0.2">24</text>
<text x="165.02" y="272.46" font-size="4.6" text-anchor="middle" font-family="Liberation Sans, sans-serif" fill="#111" stroke="#111" stroke-width="0.2">24.5</text>
<text x="180.85" y="272.46" font-size="4.6" text-anchor="middle" font-family="Liberation Sans, sans-serif" fill="#111" stroke="#111" stroke-width="0.2">25</text>
<text x="196.68" y="272.46" font-size="4.6" text-anchor="middle" font-family="Liberation Sans, sans-serif" fill="#111" stroke="#111" stroke-width="0.2">25.5</text>
<text x="212.50" y="272.46" font-size="4.6" text-anchor="middle" font-family="Liberation Sans, sans-serif" fill="#111" stroke="#111" stroke-width="0.2">26</text>
<text x="147.20" y="264.00" font-size="4.6" text-anchor="end" font-family="Liberation Sans, sans-serif" fill="#111" stroke="#111" stroke-width="0.2">0.4</text>
<text x="147.20" y="251.96" font-size="4.6" text-anchor="end" font-family="Liberation Sans, sans-serif" fill="#111" stroke="#111" stroke-width="0.2">0.45</text>
<polyline points="149.18,249.46 150.71,254.91 152.46,256.00 154.20,256.44 155.29,251.64 156.82,253.82 159.00,254.26 161.18,254.91 163.37,255.57 165.55,253.82 167.73,254.91 169.91,256.00 171.00,260.37 172.09,265.17 173.18,253.82 174.28,251.64 176.02,253.82 177.55,252.73 179.73,253.82 181.26,259.27 183.00,254.91 185.19,253.82 186.93,254.91 188.46,252.73 189.99,259.27 191.73,256.00 193.48,253.82 195.00,257.09 196.75,254.91 198.28,252.73 200.02,251.20 201.55,256.00 203.08,254.91 204.82,258.18 206.57,257.09 208.10,259.27 209.84,259.93 211.37,258.18 212.02,247.27 212.46,246.84" fill="none" stroke="#e8141e" stroke-width="1.0" stroke-linejoin="round" stroke-linecap="round"/>
<rect x="150.30" y="236.80" width="96.00" height="8.70" fill="#fff" stroke="#4a4a4a" stroke-width="0.5"/>
<line x1="152.50" y1="241.15" x2="165.50" y2="241.15" stroke="#e8141e" stroke-width="0.9"/>
<text x="167.70" y="243.01" font-size="6.2" textLength="76" lengthAdjust="spacingAndGlyphs" font-family="Liberation Serif, serif" fill="#000" stroke="#000" stroke-width="0.1">Current velocity observation <tspan font-style="italic">û</tspan><tspan font-size="3.8" dy="0.9" font-style="italic">f</tspan></text>
<rect x="320.40" y="245.00" width="223.80" height="81.80" fill="#fff"/>
<path d="M320.40 323.68H544.20M320.40 320.43H544.20M320.40 317.17H544.20M320.40 313.92H544.20M320.40 310.67H544.20M320.40 307.42H544.20M320.40 304.16H544.20M320.40 300.91H544.20M320.40 297.66H544.20M320.40 294.41H544.20M320.40 291.15H544.20M320.40 287.90H544.20M320.40 284.65H544.20M320.40 281.40H544.20M320.40 278.14H544.20M320.40 274.89H544.20M320.40 271.64H544.20M320.40 268.39H544.20M320.40 265.13H544.20M320.40 261.88H544.20M320.40 258.63H544.20M320.40 255.38H544.20M320.40 252.12H544.20M320.40 248.87H544.20M320.40 245.62H544.20" stroke="#cdcdcd" stroke-width="0.5" fill="none"/>
<path d="M320.40 245.00V326.80M329.01 245.00V326.80M337.62 245.00V326.80M346.22 245.00V326.80M354.83 245.00V326.80M363.44 245.00V326.80M372.05 245.00V326.80M380.65 245.00V326.80M389.26 245.00V326.80M397.87 245.00V326.80M406.48 245.00V326.80M415.08 245.00V326.80M423.69 245.00V326.80M432.30 245.00V326.80M440.91 245.00V326.80M449.52 245.00V326.80M458.12 245.00V326.80M466.73 245.00V326.80M475.34 245.00V326.80M483.95 245.00V326.80M492.55 245.00V326.80M501.16 245.00V326.80M509.77 245.00V326.80M518.38 245.00V326.80M526.98 245.00V326.80M535.59 245.00V326.80M544.20 245.00V326.80" stroke="#bcbcbc" stroke-width="0.5" fill="none"/>
<path d="M320.40 245.00V326.80M363.44 245.00V326.80M406.48 245.00V326.80M449.52 245.00V326.80M492.55 245.00V326.80M535.59 245.00V326.80M320.40 320.43H544.20M320.40 304.16H544.20M320.40 287.90H544.20M320.40 271.64H544.20M320.40 255.38H544.20" stroke="#b0b0b0" stroke-width="0.55" fill="none"/>
<rect x="320.40" y="245.00" width="223.80" height="81.80" fill="none" stroke="#8a8a8a" stroke-width="0.5"/>
<path d="M363.44 326.80v-2.0M363.44 245.00v2.0M406.48 326.80v-2.0M406.48 245.00v2.0M449.52 326.80v-2.0M449.52 245.00v2.0M492.55 326.80v-2.0M492.55 245.00v2.0M535.59 326.80v-2.0M535.59 245.00v2.0M320.40 320.43h2.0M544.20 320.43h-2.0M320.40 304.16h2.0M544.20 304.16h-2.0M320.40 287.90h2.0M544.20 287.90h-2.0M320.40 271.64h2.0M544.20 271.64h-2.0M320.40 255.38h2.0M544.20 255.38h-2.0" stroke="#555" stroke-width="0.45" fill="none"/>
<text x="320.40" y="333.90" font-size="4.5" text-anchor="middle" font-family="Liberation Sans, sans-serif" fill="#111" stroke="#111" stroke-width="0.2">0</text>
<text x="363.44" y="333.90" font-size="4.5" text-anchor="middle" font-family="Liberation Sans, sans-serif" fill="#111" stroke="#111" stroke-width="0.2">5</text>
<text x="406.48" y="333.90" font-size="4.5" text-anchor="middle" font-family="Liberation Sans, sans-serif" fill="#111" stroke="#111" stroke-width="0.2">10</text>
<text x="449.52" y="333.90" font-size="4.5" text-anchor="middle" font-family="Liberation Sans, sans-serif" fill="#111" stroke="#111" stroke-width="0.2">15</text>
<text x="492.55" y="333.90" font-size="4.5" text-anchor="middle" font-family="Liberation Sans, sans-serif" fill="#111" stroke="#111" stroke-width="0.2">20</text>
<text x="535.59" y="333.90" font-size="4.5" text-anchor="middle" font-family="Liberation Sans, sans-serif" fill="#111" stroke="#111" stroke-width="0.2">25</text>
<text x="318.40" y="322.45" font-size="4.5" text-anchor="end" font-family="Liberation Sans, sans-serif" fill="#111" stroke="#111" stroke-width="0.2">100</text>
<text x="318.40" y="306.18" font-size="4.5" text-anchor="end" font-family="Liberation Sans, sans-serif" fill="#111" stroke="#111" stroke-width="0.2">150</text>
<text x="318.40" y="289.92" font-size="4.5" text-anchor="end" font-family="Liberation Sans, sans-serif" fill="#111" stroke="#111" stroke-width="0.2">200</text>
<text x="318.40" y="273.66" font-size="4.5" text-anchor="end" font-family="Liberation Sans, sans-serif" fill="#111" stroke="#111" stroke-width="0.2">250</text>
<text x="318.40" y="257.40" font-size="4.5" text-anchor="end" font-family="Liberation Sans, sans-serif" fill="#111" stroke="#111" stroke-width="0.2">300</text>
<polyline points="320.46,256.96 321.28,258.60 321.94,262.70 322.60,267.63 323.25,279.95 323.91,271.74 324.57,269.27 325.55,268.45 326.54,267.63 327.52,267.30 328.51,263.53 329.49,262.70 330.48,262.38 331.46,263.03 332.45,261.88 333.11,263.53 333.76,265.17 334.42,262.70 335.08,264.02 335.73,261.06 336.39,262.38 337.05,258.60 337.70,262.70 338.36,260.24 339.02,259.42 339.67,265.17 340.33,248.75 340.99,259.42 341.65,262.70 342.30,260.24 342.96,261.88 343.62,258.60 344.27,260.24 344.93,259.42 345.59,261.06 346.24,259.42 346.90,261.39 347.56,260.24 348.21,261.88 348.87,260.73 349.53,264.35 350.18,261.06 350.84,262.70 351.50,260.24 352.15,262.38 352.81,260.73 353.47,263.53 354.12,262.70 354.78,273.38 355.44,264.35 356.10,263.53 356.75,265.99 357.41,262.70 358.07,269.27 358.72,277.48 359.38,267.63 360.04,264.35 360.69,266.81 361.35,262.70 362.01,265.99 362.66,275.84 363.32,267.63 363.98,261.88 364.63,264.35 365.29,259.42 365.95,257.78 366.60,256.14 367.26,258.60 367.92,255.32 368.57,256.96 369.23,253.67 369.89,259.42 370.55,254.49 371.20,257.78 371.86,265.17 372.52,261.06 373.17,265.99 373.83,262.70 374.49,275.02 375.14,269.27 375.80,273.38 376.46,267.63 377.11,274.20 377.77,269.27 378.43,265.99 379.08,271.74 379.74,264.35 380.40,269.27 381.05,263.53 381.71,277.48 382.37,267.63 383.02,280.77 383.68,271.74 384.34,267.63 385.00,264.35 385.65,260.24 386.31,258.60 386.97,255.32 387.62,257.78 388.28,254.49 388.94,256.96 389.59,253.67 390.25,258.60 390.91,250.39 391.56,256.14 392.22,254.49 392.88,256.96 393.53,252.85 394.19,257.78 394.85,263.53 395.50,266.81 396.16,261.06 396.82,262.70 397.47,259.42 398.13,261.88 398.79,258.60 399.44,260.24 400.00,260.16 400.98,257.71 401.96,261.38 402.94,256.48 403.92,262.61 404.90,266.28 405.88,265.06 406.86,271.19 407.84,272.41 408.82,267.51 409.80,268.74 410.78,265.06 411.76,266.28 412.75,262.61 413.73,265.06 414.71,260.16 415.69,263.83 416.67,261.38 417.65,258.93 418.63,262.61 419.61,257.71 420.59,267.51 421.57,263.83 422.55,269.96 423.53,266.28 424.51,273.64 425.49,263.83 426.47,274.86 427.45,269.96 428.43,276.09 429.41,265.06 430.39,260.16 431.37,262.61 432.35,257.71 433.33,261.38 434.31,255.25 435.29,260.16 436.27,254.03 437.25,263.83 438.24,256.48 439.22,261.38 440.20,252.80 441.18,257.71 442.16,252.31 443.14,258.93 444.12,252.80 445.10,260.16 445.59,276.09 446.57,265.06 447.55,269.96 448.53,261.38 449.51,263.83 450.49,255.25 451.47,260.16 452.45,254.03 453.43,257.71 454.41,252.80 455.39,261.38 456.37,265.06 457.35,292.02 458.33,274.86 459.31,282.22 460.29,269.96 461.27,284.67 462.25,272.41 463.24,285.89 464.22,269.96 465.20,284.67 466.18,271.19 467.16,285.89 468.14,274.86 469.12,267.51 470.00,263.83 470.98,269.96 471.96,266.28 472.94,284.67 473.92,272.41 474.90,304.27 475.88,316.53 476.37,323.88 477.35,309.18 478.33,299.37 479.31,307.95 480.29,292.02 481.27,295.70 482.25,287.12 483.24,279.76 484.22,284.67 485.20,272.41 486.18,277.31 487.16,268.74 488.14,274.86 489.12,267.51 490.10,272.41 491.08,258.93 492.06,261.38 493.04,252.80 493.53,298.15 494.51,282.22 495.49,294.47 496.47,274.86 497.45,288.34 498.43,272.41 499.41,283.44 500.39,269.96 501.37,263.83 502.35,273.64 503.33,265.06 504.31,267.51 505.29,262.61 506.27,263.83 507.25,260.16 508.24,258.93 509.22,257.71 510.69,256.48 512.16,257.22 513.63,255.25 515.10,255.75 516.57,254.03 518.04,255.25 519.02,252.80 520.00,256.48 520.98,255.25 521.96,249.86 522.94,258.93 523.92,255.25 524.90,257.71 525.88,251.58 526.86,256.48 528.33,255.25 529.80,254.03 531.27,254.76 532.75,255.75 534.22,255.25 535.69,256.48 537.16,254.76 538.63,255.25 540.10,254.03 541.57,255.25 543.04,254.03 544.02,253.29" fill="none" stroke="#e8141e" stroke-width="0.95" stroke-linejoin="round" stroke-linecap="round"/>
<text x="432.30" y="342.00" font-size="6.5" font-weight="bold" text-anchor="middle" font-family="Liberation Sans, sans-serif" fill="#000" stroke="#000" stroke-width="0.2">Time/s</text>
<text transform="translate(305.50,285.90) rotate(-90)" font-size="6.6" font-weight="bold" text-anchor="middle" font-family="Liberation Sans, sans-serif" fill="#000" stroke="#000" stroke-width="0.2">τ/N</text>
<rect x="332.80" y="283.70" width="52.20" height="34.80" fill="#fff"/>
<path d="M332.80 314.57H385.00M332.80 310.20H385.00M332.80 305.84H385.00M332.80 301.47H385.00M332.80 297.10H385.00M332.80 292.74H385.00M332.80 288.37H385.00M332.80 284.01H385.00" stroke="#c9c9c9" stroke-width="0.5" fill="none"/>
<path d="M332.80 283.70V318.50M338.02 283.70V318.50M343.24 283.70V318.50M348.46 283.70V318.50M353.68 283.70V318.50M358.90 283.70V318.50M364.12 283.70V318.50M369.34 283.70V318.50M374.56 283.70V318.50M379.78 283.70V318.50M385.00 283.70V318.50" stroke="#c9c9c9" stroke-width="0.5" fill="none"/>
<path d="M332.80 283.70V318.50M358.90 283.70V318.50M385.00 283.70V318.50M332.80 310.20H385.00M332.80 301.47H385.00M332.80 292.74H385.00M332.80 284.01H385.00" stroke="#b0b0b0" stroke-width="0.55" fill="none"/>
<rect x="332.80" y="283.70" width="52.20" height="34.80" fill="none" stroke="#666" stroke-width="0.5"/>
<path d="M358.90 318.50v-1.2M358.90 283.70v1.2M332.80 310.20h1.2M385.00 310.20h-1.2M332.80 301.47h1.2M385.00 301.47h-1.2M332.80 292.74h1.2M385.00 292.74h-1.2" stroke="#555" stroke-width="0.45" fill="none"/>
<text x="332.80" y="325.06" font-size="4.6" text-anchor="middle" font-family="Liberation Sans, sans-serif" fill="#111" stroke="#111" stroke-width="0.2">0</text>
<text x="358.90" y="325.06" font-size="4.6" text-anchor="middle" font-family="Liberation Sans, sans-serif" fill="#111" stroke="#111" stroke-width="0.2">1</text>
<text x="385.00" y="325.06" font-size="4.6" text-anchor="middle" font-family="Liberation Sans, sans-serif" fill="#111" stroke="#111" stroke-width="0.2">2</text>
<text x="330.80" y="311.76" font-size="4.6" text-anchor="end" font-family="Liberation Sans, sans-serif" fill="#111" stroke="#111" stroke-width="0.2">240</text>
<text x="330.80" y="303.03" font-size="4.6" text-anchor="end" font-family="Liberation Sans, sans-serif" fill="#111" stroke="#111" stroke-width="0.2">260</text>
<text x="330.80" y="294.29" font-size="4.6" text-anchor="end" font-family="Liberation Sans, sans-serif" fill="#111" stroke="#111" stroke-width="0.2">280</text>
<text x="330.80" y="285.56" font-size="4.6" text-anchor="end" font-family="Liberation Sans, sans-serif" fill="#111" stroke="#111" stroke-width="0.2">300</text>
<polyline points="333.24,285.50 334.74,285.80 335.79,287.00 336.99,290.74 338.04,294.49 338.79,291.49 339.69,288.19 340.74,292.99 341.79,300.49 342.69,315.48 343.29,318.48 343.89,309.48 344.79,305.74 345.99,304.24 347.49,302.74 348.99,303.49 350.49,301.69 351.99,300.49 353.48,299.74 354.98,300.19 356.78,298.99 358.28,297.49 359.48,293.74 360.98,292.99 362.78,292.69 364.73,292.54 366.68,292.99 367.73,292.69 368.78,295.99 369.98,293.74 371.48,292.99 373.27,292.99 374.47,293.74 375.67,296.74 376.72,294.49 377.77,293.74 378.97,295.99 380.17,293.74 381.22,292.99 382.27,291.49 383.17,287.00 384.07,289.99 384.97,292.24" fill="none" stroke="#e8141e" stroke-width="1.0" stroke-linejoin="round" stroke-linecap="round"/>
<rect x="398.30" y="283.50" width="52.20" height="35.00" fill="#fff"/>
<path d="M398.30 318.26H450.50M398.30 315.86H450.50M398.30 313.47H450.50M398.30 311.07H450.50M398.30 308.67H450.50M398.30 306.27H450.50M398.30 303.88H450.50M398.30 301.48H450.50M398.30 299.08H450.50M398.30 296.68H450.50M398.30 294.29H450.50M398.30 291.89H450.50M398.30 289.49H450.50M398.30 287.10H450.50M398.30 284.70H450.50" stroke="#c9c9c9" stroke-width="0.5" fill="none"/>
<path d="M398.30 283.50V318.50M403.52 283.50V318.50M408.74 283.50V318.50M413.96 283.50V318.50M419.18 283.50V318.50M424.40 283.50V318.50M429.62 283.50V318.50M434.84 283.50V318.50M440.06 283.50V318.50M445.28 283.50V318.50M450.50 283.50V318.50" stroke="#c9c9c9" stroke-width="0.5" fill="none"/>
<path d="M398.30 283.50V318.50M424.40 283.50V318.50M450.50 283.50V318.50M398.30 318.26H450.50M398.30 306.27H450.50M398.30 294.29H450.50" stroke="#b0b0b0" stroke-width="0.55" fill="none"/>
<rect x="398.30" y="283.50" width="52.20" height="35.00" fill="none" stroke="#666" stroke-width="0.5"/>
<path d="M424.40 318.50v-1.2M424.40 283.50v1.2M398.30 306.27h1.2M450.50 306.27h-1.2M398.30 294.29h1.2M450.50 294.29h-1.2" stroke="#555" stroke-width="0.45" fill="none"/>
<text x="398.30" y="324.76" font-size="4.6" text-anchor="middle" font-family="Liberation Sans, sans-serif" fill="#111" stroke="#111" stroke-width="0.2">24</text>
<text x="424.40" y="324.76" font-size="4.6" text-anchor="middle" font-family="Liberation Sans, sans-serif" fill="#111" stroke="#111" stroke-width="0.2">25</text>
<text x="450.50" y="324.76" font-size="4.6" text-anchor="middle" font-family="Liberation Sans, sans-serif" fill="#111" stroke="#111" stroke-width="0.2">26</text>
<text x="396.30" y="319.92" font-size="4.6" text-anchor="end" font-family="Liberation Sans, sans-serif" fill="#111" stroke="#111" stroke-width="0.2">290</text>
<text x="396.30" y="307.93" font-size="4.6" text-anchor="end" font-family="Liberation Sans, sans-serif" fill="#111" stroke="#111" stroke-width="0.2">295</text>
<text x="396.30" y="295.94" font-size="4.6" text-anchor="end" font-family="Liberation Sans, sans-serif" fill="#111" stroke="#111" stroke-width="0.2">300</text>
<polyline points="398.44,298.24 399.19,307.99 399.94,313.23 400.99,310.98 402.49,309.48 403.69,296.74 405.19,296.29 406.99,297.19 408.49,297.49 409.69,287.00 410.74,287.30 411.79,289.99 412.99,291.49 414.19,290.74 415.24,292.99 416.73,294.49 418.23,295.99 419.28,295.24 420.48,290.74 421.68,293.74 422.43,297.49 423.03,310.23 423.48,318.48 424.23,315.48 424.98,309.78 426.78,309.48 428.73,309.18 429.48,308.73 429.93,285.50 430.53,286.25 431.28,294.49 432.18,300.49 432.93,302.74 433.68,295.99 434.28,285.50 434.88,291.49 435.48,298.99 436.67,300.49 438.47,301.24 440.72,301.69 442.67,301.24 444.17,300.49 445.22,292.99 446.27,284.30 447.47,283.70 448.52,284.00 449.42,292.99 450.17,302.74" fill="none" stroke="#e8141e" stroke-width="1.0" stroke-linejoin="round" stroke-linecap="round"/>
<rect x="435.20" y="240.40" width="105.70" height="7.50" fill="#fff" stroke="#4a4a4a" stroke-width="0.5"/>
<line x1="437.50" y1="244.15" x2="449.50" y2="244.15" stroke="#e8141e" stroke-width="0.9"/>
<text x="451.80" y="246.01" font-size="6.2" textLength="86" lengthAdjust="spacingAndGlyphs" font-family="Liberation Serif, serif" fill="#000" stroke="#000" stroke-width="0.1">Lumped disturbance observation <tspan font-style="italic">τ̂</tspan><tspan font-size="3.8" dy="0.9" font-style="italic">D</tspan></text>
</svg></body></html>
